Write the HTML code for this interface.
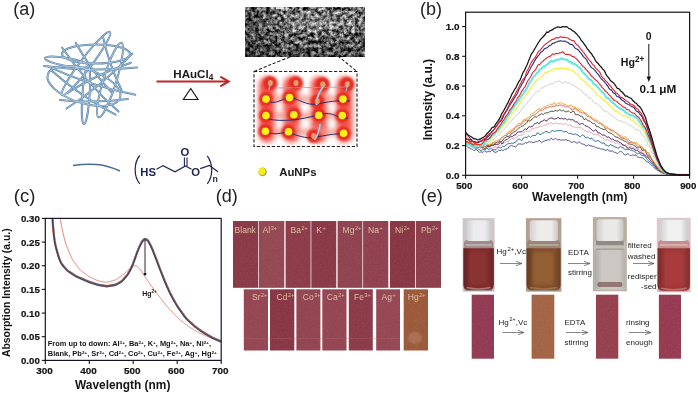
<!DOCTYPE html>
<html><head><meta charset="utf-8"><title>Figure</title>
<style>html,body{margin:0;padding:0;background:#fff;}svg{display:block}</style></head>
<body><svg width="698" height="393" viewBox="0 0 698 393" style="filter:blur(0.35px)">
<defs>
<filter id="sem" x="0" y="0" width="100%" height="100%" color-interpolation-filters="sRGB">
<feTurbulence type="fractalNoise" baseFrequency="0.27" numOctaves="4" seed="11"/>
<feColorMatrix type="matrix" values="1.8 0 0 0 -0.5  1.8 0 0 0 -0.5  1.8 0 0 0 -0.5  0 0 0 0 1"/>
</filter>
<radialGradient id="semg" cx="0.62" cy="0.3" r="0.5" gradientTransform="translate(0.62 0.3) scale(1 0.55) translate(-0.62 -0.3)">
<stop offset="0" stop-color="#fff" stop-opacity="0.3"/><stop offset="1" stop-color="#fff" stop-opacity="0"/></radialGradient>
<linearGradient id="semd" x1="0" x2="0" y1="0" y2="1">
<stop offset="0" stop-color="#000" stop-opacity="0"/><stop offset="0.55" stop-color="#000" stop-opacity="0.05"/><stop offset="1" stop-color="#000" stop-opacity="0.32"/></linearGradient>
<linearGradient id="seml" x1="0" x2="1" y1="0" y2="0">
<stop offset="0" stop-color="#000" stop-opacity="0.25"/><stop offset="0.35" stop-color="#000" stop-opacity="0"/></linearGradient>
<filter id="paper" x="0" y="0" width="100%" height="100%" color-interpolation-filters="sRGB">
<feTurbulence type="fractalNoise" baseFrequency="0.7" numOctaves="2" seed="3"/>
<feColorMatrix type="matrix" values="0 0 0 0 1  0 0 0 0 0.85  0 0 0 0 0.85  1.2 0 0 0 -0.5"/>
</filter>
<filter id="blur3" x="-20%" y="-20%" width="140%" height="140%"><feGaussianBlur stdDeviation="2.6"/></filter>
<filter id="blur1" x="-20%" y="-20%" width="140%" height="140%"><feGaussianBlur stdDeviation="1.3"/></filter>
<linearGradient id="vshade" x1="0" x2="1" y1="0" y2="0">
<stop offset="0" stop-color="#000" stop-opacity="0.25"/><stop offset="0.25" stop-color="#000" stop-opacity="0"/><stop offset="0.8" stop-color="#000" stop-opacity="0"/><stop offset="1" stop-color="#000" stop-opacity="0.2"/></linearGradient>
<linearGradient id="capshade" x1="0" x2="1" y1="0" y2="0">
<stop offset="0" stop-color="#000" stop-opacity="0.12"/><stop offset="0.3" stop-color="#000" stop-opacity="0"/><stop offset="0.75" stop-color="#000" stop-opacity="0"/><stop offset="1" stop-color="#000" stop-opacity="0.15"/></linearGradient>
</defs>
<rect width="698" height="393" fill="#fff"/>
<g id="pa">
<text x="13.2" y="15" font-family="Liberation Sans, Arial, sans-serif" font-size="18" fill="#222">(a)</text>
<ellipse cx="86" cy="63.5" rx="39.6" ry="5.5" transform="rotate(-52.7 86 63.5)" fill="none" stroke="#5580a8" stroke-width="2.0"/>
<ellipse cx="110" cy="80" rx="39" ry="6.5" transform="rotate(107 110 80)" fill="none" stroke="#5580a8" stroke-width="2.0"/>
<ellipse cx="66.6" cy="62" rx="22" ry="4" transform="rotate(10 66.6 62)" fill="none" stroke="#5580a8" stroke-width="2.0"/>
<ellipse cx="96" cy="54" rx="34" ry="9.5" transform="rotate(0 96 54)" fill="none" stroke="#5580a8" stroke-width="2.0"/>
<ellipse cx="86" cy="95" rx="29" ry="3.6" transform="rotate(94 86 95)" fill="none" stroke="#5580a8" stroke-width="2.0"/>
<ellipse cx="84" cy="86" rx="38" ry="17" transform="rotate(18 84 86)" fill="none" stroke="#5580a8" stroke-width="2.0"/>
<path d="M44 66 Q90.4 72.3 137 67.5" fill="none" stroke="#5580a8" stroke-width="2.0" stroke-linecap="round"/>
<path d="M46.8 65.8 Q89.3 85.6 135.3 94.8" fill="none" stroke="#5580a8" stroke-width="2.0" stroke-linecap="round"/>
<path d="M66.6 108.5 Q102.7 85.0 132.3 53.6" fill="none" stroke="#5580a8" stroke-width="2.0" stroke-linecap="round"/>
<path d="M62 47.5 Q86.4 82.9 118.5 111.6" fill="none" stroke="#5580a8" stroke-width="2.0" stroke-linecap="round"/>
<path d="M103.3 38.3 Q109.3 65.3 121.6 90.2" fill="none" stroke="#5580a8" stroke-width="2.0" stroke-linecap="round"/>
<path d="M51.4 70.4 Q80.8 96.4 115.5 114.7" fill="none" stroke="#5580a8" stroke-width="2.0" stroke-linecap="round"/>
<path d="M130.8 62.7 Q96.9 74.1 66.6 93.3" fill="none" stroke="#5580a8" stroke-width="2.0" stroke-linecap="round"/>
<path d="M75.8 42.9 Q91.1 70.3 112.4 93.3" fill="none" stroke="#5580a8" stroke-width="2.0" stroke-linecap="round"/>
<path d="M60 100 Q94.1 103.6 128 99" fill="none" stroke="#5580a8" stroke-width="2.0" stroke-linecap="round"/>
<ellipse cx="86" cy="63.5" rx="39.6" ry="5.5" transform="rotate(-52.7 86 63.5)" fill="none" stroke="#c4daea" stroke-width="0.65"/>
<ellipse cx="110" cy="80" rx="39" ry="6.5" transform="rotate(107 110 80)" fill="none" stroke="#c4daea" stroke-width="0.65"/>
<ellipse cx="66.6" cy="62" rx="22" ry="4" transform="rotate(10 66.6 62)" fill="none" stroke="#c4daea" stroke-width="0.65"/>
<ellipse cx="96" cy="54" rx="34" ry="9.5" transform="rotate(0 96 54)" fill="none" stroke="#c4daea" stroke-width="0.65"/>
<ellipse cx="86" cy="95" rx="29" ry="3.6" transform="rotate(94 86 95)" fill="none" stroke="#c4daea" stroke-width="0.65"/>
<ellipse cx="84" cy="86" rx="38" ry="17" transform="rotate(18 84 86)" fill="none" stroke="#c4daea" stroke-width="0.65"/>
<path d="M44 66 Q90.4 72.3 137 67.5" fill="none" stroke="#c4daea" stroke-width="0.65" stroke-linecap="round"/>
<path d="M46.8 65.8 Q89.3 85.6 135.3 94.8" fill="none" stroke="#c4daea" stroke-width="0.65" stroke-linecap="round"/>
<path d="M66.6 108.5 Q102.7 85.0 132.3 53.6" fill="none" stroke="#c4daea" stroke-width="0.65" stroke-linecap="round"/>
<path d="M62 47.5 Q86.4 82.9 118.5 111.6" fill="none" stroke="#c4daea" stroke-width="0.65" stroke-linecap="round"/>
<path d="M103.3 38.3 Q109.3 65.3 121.6 90.2" fill="none" stroke="#c4daea" stroke-width="0.65" stroke-linecap="round"/>
<path d="M51.4 70.4 Q80.8 96.4 115.5 114.7" fill="none" stroke="#c4daea" stroke-width="0.65" stroke-linecap="round"/>
<path d="M130.8 62.7 Q96.9 74.1 66.6 93.3" fill="none" stroke="#c4daea" stroke-width="0.65" stroke-linecap="round"/>
<path d="M75.8 42.9 Q91.1 70.3 112.4 93.3" fill="none" stroke="#c4daea" stroke-width="0.65" stroke-linecap="round"/>
<path d="M60 100 Q94.1 103.6 128 99" fill="none" stroke="#c4daea" stroke-width="0.65" stroke-linecap="round"/>
<path d="M156.5 81.5 H227" stroke="#c2262a" stroke-width="2.1" fill="none"/>
<path d="M220.3 76.6 L228.6 81.5 L220.3 86.4" stroke="#c2262a" stroke-width="2.1" fill="none" stroke-linejoin="miter"/>
<text x="173.3" y="77.5" font-family="Liberation Sans, Arial, sans-serif" font-size="11.6" font-weight="bold" fill="#1a1a1a">HAuCl<tspan font-size="8.3" dy="2.8">4</tspan></text>
<path d="M190.7 88.5 L198 99.5 H183.4 Z" stroke="#1a1a1a" stroke-width="1.2" fill="none"/>
<rect x="245.3" y="7.1" width="119.1" height="49.9" fill="#6a6a6a"/>
<rect x="245.3" y="7.1" width="119.1" height="49.9" filter="url(#sem)"/>
<rect x="245.3" y="7.1" width="119.1" height="49.9" fill="url(#semg)"/>
<rect x="245.3" y="7.1" width="119.1" height="49.9" fill="url(#semd)"/>
<rect x="245.3" y="7.1" width="119.1" height="49.9" fill="url(#seml)"/>
<rect x="276" y="7.1" width="8" height="2.2" fill="#fff" opacity="0.85"/>
<path d="M254 71.5 Q300 52 318 48.5 Q326 47.5 333 52 L357 71.5" stroke="#222" stroke-width="1.1" fill="none" stroke-dasharray="3.2 1.8"/>
<rect x="254" y="71.5" width="103" height="75" fill="#fff"/>
<g filter="url(#blur3)">
<rect x="259" y="76.5" width="16" height="66" rx="8" fill="#ee362c" opacity="0.85"/>
<rect x="283.5" y="76.5" width="16" height="66" rx="8" fill="#ee362c" opacity="0.85"/>
<rect x="311" y="76.5" width="16" height="66" rx="8" fill="#ee362c" opacity="0.85"/>
<rect x="336.5" y="76.5" width="16" height="66" rx="8" fill="#ee362c" opacity="0.85"/>
<rect x="260" y="95.5" width="90" height="7" rx="3.5" fill="#f4958c" opacity="0.8"/>
<rect x="260" y="112.0" width="90" height="7" rx="3.5" fill="#f4958c" opacity="0.8"/>
<rect x="260" y="128.5" width="90" height="7" rx="3.5" fill="#f4958c" opacity="0.8"/>
</g>
<g filter="url(#blur1)">
<circle cx="266" cy="99.1" r="7.2" fill="#e8281e" opacity="0.95"/>
<circle cx="289.5" cy="97.6" r="7.2" fill="#e8281e" opacity="0.95"/>
<circle cx="343" cy="99.1" r="7.2" fill="#e8281e" opacity="0.95"/>
<circle cx="266" cy="115.6" r="7.2" fill="#e8281e" opacity="0.95"/>
<circle cx="293.8" cy="114.7" r="7.2" fill="#e8281e" opacity="0.95"/>
<circle cx="318.8" cy="115.2" r="7.2" fill="#e8281e" opacity="0.95"/>
<circle cx="342.3" cy="115.6" r="7.2" fill="#e8281e" opacity="0.95"/>
<circle cx="265.4" cy="131.2" r="7.2" fill="#e8281e" opacity="0.95"/>
<circle cx="288.5" cy="131.8" r="7.2" fill="#e8281e" opacity="0.95"/>
<circle cx="343.6" cy="133.3" r="7.2" fill="#e8281e" opacity="0.95"/>
<circle cx="270.3" cy="83.1" r="7.2" fill="#e8281e" opacity="0.95"/>
<circle cx="296" cy="83.1" r="7.2" fill="#e8281e" opacity="0.95"/>
<circle cx="322.7" cy="84.2" r="7.2" fill="#e8281e" opacity="0.95"/>
<circle cx="347.2" cy="84.2" r="7.2" fill="#e8281e" opacity="0.95"/>
<circle cx="317.3" cy="101.3" r="7.2" fill="#e8281e" opacity="0.95"/>
<circle cx="313.7" cy="136.1" r="7.2" fill="#e8281e" opacity="0.95"/>
</g>
<path d="M274 88 L346 87" stroke="#a7a0b8" stroke-width="0.8" fill="none"/>
<path d="M270 102 C278 104 282 98 290 98 S306 106 317 104 S336 100 350 101" stroke="#2a2f6a" stroke-width="1" fill="none"/>
<path d="M268 119 C282 122 300 120 318 115 S336 120 348 118" stroke="#2a2f6a" stroke-width="1" fill="none"/>
<path d="M268 132.5 C278 136 284 131 290 133 S306 139 314 137.5 S336 133 346 134" stroke="#2a2f6a" stroke-width="1" fill="none"/>
<path d="M325 84 C319 92 316 99 316.5 105" stroke="#8fa8c4" stroke-width="2.2" fill="none"/>
<path d="M325 84 C319 92 316 99 316.5 105" stroke="#e6eef5" stroke-width="0.7" fill="none"/>
<path d="M320 124 C320 130 317 136 314.5 140" stroke="#8fa8c4" stroke-width="2" fill="none"/>
<path d="M320 124 C320 130 317 136 314.5 140" stroke="#e6eef5" stroke-width="0.6" fill="none"/>
<path d="M272 81 C270 85 269 87 269 90" stroke="#8fa8c4" stroke-width="1.6" fill="none"/>
<path d="M349 81.5 C347.5 85 346.5 88 346 91.5" stroke="#8fa8c4" stroke-width="1.6" fill="none"/>
<ellipse cx="270.3" cy="83.1" rx="2.5" ry="3" fill="#e0a878" opacity="0.9"/>
<ellipse cx="296" cy="83.1" rx="2.5" ry="3" fill="#e0a878" opacity="0.9"/>
<ellipse cx="322.7" cy="84.2" rx="2.5" ry="3" fill="#e0a878" opacity="0.9"/>
<ellipse cx="347.2" cy="84.2" rx="2.5" ry="3" fill="#e0a878" opacity="0.9"/>
<ellipse cx="317.3" cy="101.3" rx="2.5" ry="3" fill="#e0a878" opacity="0.9"/>
<ellipse cx="313.7" cy="136.1" rx="2.5" ry="3" fill="#e0a878" opacity="0.9"/>
<circle cx="266" cy="99.1" r="3.8" fill="#f8f018"/>
<circle cx="289.5" cy="97.6" r="3.8" fill="#f8f018"/>
<circle cx="343" cy="99.1" r="3.8" fill="#f8f018"/>
<circle cx="266" cy="115.6" r="3.8" fill="#f8f018"/>
<circle cx="293.8" cy="114.7" r="3.8" fill="#f8f018"/>
<circle cx="318.8" cy="115.2" r="3.8" fill="#f8f018"/>
<circle cx="342.3" cy="115.6" r="3.8" fill="#f8f018"/>
<circle cx="265.4" cy="131.2" r="3.8" fill="#f8f018"/>
<circle cx="288.5" cy="131.8" r="3.8" fill="#f8f018"/>
<circle cx="343.6" cy="133.3" r="3.8" fill="#f8f018"/>
<rect x="254" y="71.5" width="103" height="75" fill="none" stroke="#222" stroke-width="1.1" stroke-dasharray="3.2 1.8"/>
<path d="M73 165.5 C90 163 104 163.5 120 171" stroke="#4d6a92" stroke-width="1.5" fill="none"/>
<path d="M139.8 155.5 C133.6 163 133.6 176.5 139.8 183.8" stroke="#1d2354" stroke-width="1.2" fill="none"/>
<path d="M207.3 155.8 C213.2 164 213.2 176 207.3 183.8" stroke="#1d2354" stroke-width="1.2" fill="none"/>
<text x="140.3" y="175.6" font-family="Liberation Sans, Arial, sans-serif" font-size="11.3" font-weight="bold" fill="#1d2354">HS</text>
<path d="M156.6 169.2 L163 165.6 L175 171.8 L185.5 166 L191.5 169.3" stroke="#1d2354" stroke-width="1.2" fill="none"/>
<path d="M184.4 166 V157.4 M187 166 V157.4" stroke="#1d2354" stroke-width="1.1" fill="none"/>
<text x="180.6" y="156.4" font-family="Liberation Sans, Arial, sans-serif" font-size="11.3" font-weight="bold" fill="#1d2354">O</text>
<text x="191.2" y="176.2" font-family="Liberation Sans, Arial, sans-serif" font-size="11.3" font-weight="bold" fill="#1d2354">O</text>
<path d="M200.2 168.6 L209.4 165.4 L218 171.8" stroke="#1d2354" stroke-width="1.2" fill="none"/>
<text x="212.6" y="182.2" font-family="Liberation Sans, Arial, sans-serif" font-size="8.8" font-weight="bold" fill="#1d2354">n</text>
<circle cx="262.6" cy="171.9" r="4.3" fill="#b0a468"/>
<circle cx="261.9" cy="171.3" r="3.6" fill="#f6ee14"/>
<text x="279.2" y="176" font-family="Liberation Sans, Arial, sans-serif" font-size="11.4" font-weight="bold" fill="#1a1a1a">AuNPs</text>
</g>
<g id="pb">
<text x="420" y="15" font-family="Liberation Sans, Arial, sans-serif" font-size="18" fill="#222">(b)</text>
<path d="M465.6 144.4 L466.5 145.0 L467.3 146.5 L468.2 147.7 L469.1 147.9 L469.9 147.9 L470.8 148.5 L471.7 149.1 L472.5 149.5 L473.4 150.3 L474.2 150.7 L475.1 150.0 L476.0 149.5 L476.8 149.8 L477.7 150.8 L478.6 151.7 L479.4 152.3 L480.3 152.2 L481.2 151.7 L482.0 152.2 L482.9 152.5 L483.8 151.5 L484.6 150.7 L485.5 151.2 L486.4 152.2 L487.2 151.9 L488.1 151.3 L489.0 151.5 L489.8 151.8 L490.7 151.3 L491.5 150.2 L492.4 150.1 L493.3 151.3 L494.1 151.8 L495.0 152.1 L495.9 152.5 L496.7 152.0 L497.6 150.9 L498.5 150.0 L499.3 150.3 L500.2 150.7 L501.1 149.9 L501.9 150.0 L502.8 150.5 L503.7 150.0 L504.5 149.5 L505.4 149.2 L506.2 149.1 L507.1 149.3 L508.0 148.3 L508.8 146.8 L509.7 146.2 L510.6 145.9 L511.4 145.4 L512.3 145.7 L513.2 146.3 L514.0 146.4 L514.9 146.8 L515.8 147.0 L516.6 146.3 L517.5 144.7 L518.4 144.0 L519.2 144.0 L520.1 143.8 L521.0 144.2 L521.8 144.2 L522.7 144.1 L523.5 144.2 L524.4 143.2 L525.3 142.6 L526.1 143.1 L527.0 143.0 L527.9 142.4 L528.7 141.9 L529.6 141.8 L530.5 142.0 L531.3 141.9 L532.2 142.4 L533.1 142.5 L533.9 142.1 L534.8 142.2 L535.7 141.8 L536.5 141.4 L537.4 141.7 L538.2 141.1 L539.1 140.4 L540.0 140.9 L540.8 142.1 L541.7 142.8 L542.6 142.0 L543.4 141.1 L544.3 141.0 L545.2 140.7 L546.0 140.3 L546.9 140.2 L547.8 139.9 L548.6 139.7 L549.5 140.1 L550.4 139.4 L551.2 138.2 L552.1 138.7 L553.0 139.9 L553.8 139.6 L554.7 138.7 L555.5 138.5 L556.4 139.1 L557.3 139.9 L558.1 139.9 L559.0 139.3 L559.9 139.5 L560.7 140.0 L561.6 140.2 L562.5 140.0 L563.3 139.9 L564.2 140.2 L565.1 139.9 L565.9 139.6 L566.8 140.2 L567.7 140.6 L568.5 140.5 L569.4 140.8 L570.2 141.3 L571.1 142.1 L572.0 142.6 L572.8 141.9 L573.7 141.6 L574.6 141.9 L575.4 142.2 L576.3 142.8 L577.2 143.2 L578.0 142.5 L578.9 141.7 L579.8 142.3 L580.6 143.3 L581.5 143.6 L582.4 144.1 L583.2 144.2 L584.1 144.1 L585.0 145.1 L585.8 146.1 L586.7 145.9 L587.5 145.4 L588.4 145.0 L589.3 145.2 L590.1 145.8 L591.0 145.8 L591.9 146.0 L592.7 146.3 L593.6 146.3 L594.5 146.8 L595.3 147.3 L596.2 147.5 L597.1 148.1 L597.9 148.3 L598.8 148.1 L599.7 148.4 L600.5 148.9 L601.4 149.1 L602.2 148.9 L603.1 149.0 L604.0 149.6 L604.8 149.9 L605.7 150.4 L606.6 150.2 L607.4 149.2 L608.3 150.2 L609.2 151.2 L610.0 150.8 L610.9 151.2 L611.8 151.1 L612.6 151.0 L613.5 151.8 L614.4 152.3 L615.2 152.3 L616.1 152.7 L617.0 153.4 L617.8 153.4 L618.7 152.5 L619.5 151.8 L620.4 151.6 L621.3 151.5 L622.1 152.3 L623.0 153.3 L623.9 154.1 L624.7 154.9 L625.6 155.0 L626.5 154.5 L627.3 153.9 L628.2 153.9 L629.1 154.6 L629.9 155.4 L630.8 155.7 L631.7 155.3 L632.5 154.9 L633.4 155.2 L634.2 155.4 L635.1 154.8 L636.0 155.1 L636.8 156.3 L637.7 157.0 L638.6 157.2 L639.4 157.4 L640.3 157.6 L641.2 157.7 L642.0 157.8 L642.9 158.0 L643.8 158.8 L644.6 159.8 L645.5 160.6 L646.4 161.4 L647.2 161.8 L648.1 162.1 L649.0 162.8 L649.8 163.6 L650.7 164.6 L651.5 165.4 L652.4 166.0 L653.3 166.9 L654.1 167.7 L655.0 168.5 L655.9 169.3 L656.7 169.9 L657.6 170.4 L658.5 170.8 L659.3 171.3 L660.2 171.9 L661.1 172.5 L661.9 172.8 L662.8 173.0 L663.7 173.3 L664.5 173.5 L665.4 173.7 L666.2 173.9 L667.1 174.0 L668.0 174.1 L668.8 174.2 L669.7 174.4 L670.6 174.5 L671.4 174.5 L672.3 174.6 L673.2 174.6 L674.0 174.6 L674.9 174.7 L675.8 174.7 L676.6 174.7 L677.5 174.7 L678.4 174.7 L679.2 174.7 L680.1 174.7 L681.0 174.8 L681.8 174.8 L682.7 174.8 L683.5 174.8 L684.4 174.8 L685.3 174.8 L686.1 174.8 L687.0 174.8 L687.9 174.8 L688.7 174.8 L689.6 174.8" fill="none" stroke="#4a5088" stroke-width="1.0" stroke-linejoin="round"/>
<path d="M465.6 142.0 L466.5 142.2 L467.3 142.9 L468.2 143.4 L469.1 143.6 L469.9 144.5 L470.8 145.9 L471.7 146.3 L472.5 147.0 L473.4 147.8 L474.2 148.0 L475.1 148.2 L476.0 148.0 L476.8 148.2 L477.7 148.8 L478.6 149.1 L479.4 149.7 L480.3 150.5 L481.2 150.4 L482.0 150.0 L482.9 149.8 L483.8 149.6 L484.6 149.7 L485.5 149.5 L486.4 148.3 L487.2 147.9 L488.1 149.1 L489.0 149.5 L489.8 148.9 L490.7 148.0 L491.5 148.1 L492.4 149.3 L493.3 149.8 L494.1 149.7 L495.0 149.9 L495.9 149.5 L496.7 148.7 L497.6 148.1 L498.5 147.0 L499.3 146.9 L500.2 147.8 L501.1 148.0 L501.9 146.9 L502.8 146.0 L503.7 146.5 L504.5 146.7 L505.4 145.6 L506.2 144.9 L507.1 144.4 L508.0 143.5 L508.8 143.2 L509.7 143.5 L510.6 143.6 L511.4 143.2 L512.3 143.2 L513.2 143.4 L514.0 142.8 L514.9 142.4 L515.8 142.1 L516.6 141.1 L517.5 139.7 L518.4 139.2 L519.2 139.1 L520.1 139.2 L521.0 140.3 L521.8 140.6 L522.7 139.2 L523.5 137.9 L524.4 137.6 L525.3 137.1 L526.1 137.2 L527.0 137.7 L527.9 136.7 L528.7 135.7 L529.6 136.7 L530.5 137.5 L531.3 136.7 L532.2 135.8 L533.1 135.5 L533.9 135.5 L534.8 135.6 L535.7 135.5 L536.5 134.1 L537.4 132.7 L538.2 133.1 L539.1 134.0 L540.0 134.4 L540.8 134.6 L541.7 133.6 L542.6 133.0 L543.4 133.0 L544.3 132.4 L545.2 131.8 L546.0 131.5 L546.9 131.5 L547.8 132.1 L548.6 132.9 L549.5 132.8 L550.4 131.9 L551.2 131.3 L552.1 130.7 L553.0 130.5 L553.8 131.2 L554.7 131.3 L555.5 130.9 L556.4 130.9 L557.3 130.9 L558.1 130.8 L559.0 130.5 L559.9 130.6 L560.7 130.7 L561.6 130.6 L562.5 131.0 L563.3 131.7 L564.2 131.8 L565.1 131.7 L565.9 131.5 L566.8 131.6 L567.7 132.8 L568.5 133.6 L569.4 133.3 L570.2 133.3 L571.1 133.8 L572.0 133.9 L572.8 134.3 L573.7 134.6 L574.6 134.1 L575.4 134.0 L576.3 134.6 L577.2 134.9 L578.0 134.9 L578.9 135.9 L579.8 136.9 L580.6 136.5 L581.5 135.6 L582.4 135.0 L583.2 134.9 L584.1 135.8 L585.0 137.1 L585.8 137.8 L586.7 137.7 L587.5 137.2 L588.4 137.6 L589.3 138.6 L590.1 138.8 L591.0 138.2 L591.9 138.2 L592.7 139.3 L593.6 140.5 L594.5 141.0 L595.3 141.2 L596.2 141.2 L597.1 140.7 L597.9 140.6 L598.8 140.9 L599.7 141.5 L600.5 142.3 L601.4 142.8 L602.2 143.1 L603.1 143.1 L604.0 142.9 L604.8 144.1 L605.7 145.3 L606.6 145.3 L607.4 145.6 L608.3 146.2 L609.2 145.8 L610.0 144.8 L610.9 144.7 L611.8 145.5 L612.6 145.5 L613.5 145.8 L614.4 147.0 L615.2 147.2 L616.1 147.0 L617.0 147.6 L617.8 148.3 L618.7 148.0 L619.5 147.0 L620.4 146.6 L621.3 147.0 L622.1 147.6 L623.0 147.5 L623.9 148.3 L624.7 149.4 L625.6 149.3 L626.5 149.3 L627.3 149.5 L628.2 149.4 L629.1 149.4 L629.9 149.9 L630.8 150.3 L631.7 150.2 L632.5 150.7 L633.4 151.0 L634.2 151.0 L635.1 151.8 L636.0 152.7 L636.8 153.3 L637.7 153.9 L638.6 153.3 L639.4 152.9 L640.3 154.0 L641.2 154.9 L642.0 155.6 L642.9 155.7 L643.8 155.3 L644.6 156.1 L645.5 157.5 L646.4 158.5 L647.2 159.4 L648.1 160.4 L649.0 161.3 L649.8 161.9 L650.7 162.4 L651.5 163.1 L652.4 164.1 L653.3 165.4 L654.1 166.5 L655.0 167.3 L655.9 168.0 L656.7 168.6 L657.6 169.2 L658.5 170.0 L659.3 170.9 L660.2 171.5 L661.1 171.8 L661.9 172.3 L662.8 172.8 L663.7 173.1 L664.5 173.3 L665.4 173.6 L666.2 173.8 L667.1 174.0 L668.0 174.1 L668.8 174.2 L669.7 174.3 L670.6 174.4 L671.4 174.5 L672.3 174.6 L673.2 174.6 L674.0 174.6 L674.9 174.7 L675.8 174.7 L676.6 174.7 L677.5 174.7 L678.4 174.7 L679.2 174.8 L680.1 174.8 L681.0 174.8 L681.8 174.8 L682.7 174.8 L683.5 174.8 L684.4 174.8 L685.3 174.8 L686.1 174.8 L687.0 174.8 L687.9 174.9 L688.7 174.9 L689.6 174.9" fill="none" stroke="#2a6a9a" stroke-width="1.0" stroke-linejoin="round"/>
<path d="M465.6 139.2 L466.5 140.0 L467.3 140.7 L468.2 141.4 L469.1 143.0 L469.9 143.8 L470.8 143.1 L471.7 142.9 L472.5 144.3 L473.4 145.7 L474.2 145.8 L475.1 145.8 L476.0 146.4 L476.8 147.5 L477.7 148.1 L478.6 147.9 L479.4 147.3 L480.3 146.6 L481.2 146.9 L482.0 148.2 L482.9 148.7 L483.8 148.5 L484.6 148.2 L485.5 147.8 L486.4 147.6 L487.2 147.4 L488.1 147.2 L489.0 147.8 L489.8 148.7 L490.7 148.9 L491.5 148.6 L492.4 148.5 L493.3 148.1 L494.1 146.9 L495.0 146.4 L495.9 146.7 L496.7 147.1 L497.6 147.1 L498.5 145.9 L499.3 145.1 L500.2 145.5 L501.1 144.8 L501.9 143.7 L502.8 143.5 L503.7 143.2 L504.5 142.8 L505.4 142.7 L506.2 141.6 L507.1 140.9 L508.0 141.5 L508.8 141.4 L509.7 140.1 L510.6 138.9 L511.4 138.3 L512.3 138.4 L513.2 139.0 L514.0 138.8 L514.9 137.8 L515.8 137.3 L516.6 137.3 L517.5 136.6 L518.4 135.6 L519.2 135.2 L520.1 135.3 L521.0 135.0 L521.8 134.9 L522.7 134.5 L523.5 133.3 L524.4 131.5 L525.3 130.6 L526.1 131.2 L527.0 131.4 L527.9 131.3 L528.7 131.5 L529.6 131.1 L530.5 130.5 L531.3 129.2 L532.2 128.4 L533.1 128.9 L533.9 128.9 L534.8 127.9 L535.7 127.7 L536.5 127.7 L537.4 127.8 L538.2 128.0 L539.1 127.0 L540.0 126.0 L540.8 126.0 L541.7 126.3 L542.6 126.2 L543.4 125.5 L544.3 125.2 L545.2 125.3 L546.0 125.1 L546.9 124.2 L547.8 123.7 L548.6 123.7 L549.5 123.4 L550.4 122.8 L551.2 122.8 L552.1 123.4 L553.0 124.0 L553.8 124.0 L554.7 123.6 L555.5 123.0 L556.4 123.0 L557.3 123.5 L558.1 123.9 L559.0 123.8 L559.9 123.4 L560.7 123.5 L561.6 123.9 L562.5 124.3 L563.3 124.5 L564.2 124.1 L565.1 123.4 L565.9 123.7 L566.8 124.7 L567.7 125.4 L568.5 125.3 L569.4 124.5 L570.2 124.6 L571.1 126.0 L572.0 126.6 L572.8 126.4 L573.7 127.0 L574.6 127.5 L575.4 127.0 L576.3 127.0 L577.2 127.9 L578.0 127.7 L578.9 127.1 L579.8 127.6 L580.6 128.0 L581.5 127.8 L582.4 128.7 L583.2 129.8 L584.1 130.1 L585.0 130.6 L585.8 131.0 L586.7 131.4 L587.5 131.6 L588.4 131.7 L589.3 131.7 L590.1 131.9 L591.0 132.6 L591.9 133.0 L592.7 133.7 L593.6 134.7 L594.5 134.7 L595.3 134.4 L596.2 134.6 L597.1 134.1 L597.9 133.8 L598.8 135.1 L599.7 136.2 L600.5 136.3 L601.4 137.1 L602.2 138.0 L603.1 137.9 L604.0 139.0 L604.8 140.5 L605.7 140.4 L606.6 139.8 L607.4 139.8 L608.3 139.9 L609.2 140.1 L610.0 140.6 L610.9 141.7 L611.8 142.4 L612.6 141.7 L613.5 141.4 L614.4 142.7 L615.2 143.9 L616.1 143.5 L617.0 142.6 L617.8 143.2 L618.7 144.2 L619.5 144.1 L620.4 143.9 L621.3 144.5 L622.1 145.4 L623.0 145.7 L623.9 145.1 L624.7 144.7 L625.6 144.9 L626.5 145.1 L627.3 145.5 L628.2 145.9 L629.1 146.2 L629.9 146.2 L630.8 146.1 L631.7 146.7 L632.5 147.5 L633.4 147.7 L634.2 147.8 L635.1 148.0 L636.0 148.3 L636.8 149.1 L637.7 149.9 L638.6 149.6 L639.4 149.8 L640.3 150.6 L641.2 150.7 L642.0 151.3 L642.9 152.9 L643.8 153.8 L644.6 154.0 L645.5 155.0 L646.4 155.8 L647.2 156.5 L648.1 157.8 L649.0 159.1 L649.8 160.0 L650.7 160.5 L651.5 161.3 L652.4 162.3 L653.3 163.5 L654.1 164.8 L655.0 165.9 L655.9 166.7 L656.7 167.4 L657.6 168.5 L658.5 169.7 L659.3 170.3 L660.2 170.8 L661.1 171.5 L661.9 172.0 L662.8 172.5 L663.7 172.9 L664.5 173.1 L665.4 173.4 L666.2 173.7 L667.1 173.9 L668.0 174.1 L668.8 174.2 L669.7 174.3 L670.6 174.4 L671.4 174.4 L672.3 174.5 L673.2 174.6 L674.0 174.7 L674.9 174.7 L675.8 174.7 L676.6 174.7 L677.5 174.7 L678.4 174.7 L679.2 174.8 L680.1 174.8 L681.0 174.8 L681.8 174.8 L682.7 174.8 L683.5 174.8 L684.4 174.8 L685.3 174.8 L686.1 174.8 L687.0 174.8 L687.9 174.8 L688.7 174.9 L689.6 174.9" fill="none" stroke="#f0a0b0" stroke-width="1.0" stroke-linejoin="round"/>
<path d="M465.6 132.4 L466.5 132.6 L467.3 134.0 L468.2 135.8 L469.1 137.0 L469.9 138.0 L470.8 138.9 L471.7 139.6 L472.5 140.4 L473.4 141.3 L474.2 142.4 L475.1 142.8 L476.0 143.4 L476.8 144.5 L477.7 144.7 L478.6 144.9 L479.4 145.5 L480.3 146.3 L481.2 146.4 L482.0 145.9 L482.9 146.3 L483.8 146.6 L484.6 146.4 L485.5 146.5 L486.4 145.8 L487.2 145.3 L488.1 145.5 L489.0 146.0 L489.8 146.8 L490.7 146.5 L491.5 145.2 L492.4 145.2 L493.3 145.0 L494.1 144.3 L495.0 144.6 L495.9 144.7 L496.7 144.4 L497.6 144.3 L498.5 144.3 L499.3 143.4 L500.2 142.1 L501.1 142.5 L501.9 143.9 L502.8 143.3 L503.7 141.5 L504.5 140.7 L505.4 140.1 L506.2 139.7 L507.1 139.6 L508.0 138.6 L508.8 137.7 L509.7 137.4 L510.6 136.8 L511.4 136.4 L512.3 136.4 L513.2 136.0 L514.0 135.1 L514.9 134.9 L515.8 134.7 L516.6 133.3 L517.5 132.1 L518.4 131.9 L519.2 132.0 L520.1 131.9 L521.0 131.9 L521.8 131.7 L522.7 130.8 L523.5 130.2 L524.4 129.5 L525.3 128.8 L526.1 129.3 L527.0 129.3 L527.9 128.0 L528.7 126.9 L529.6 126.7 L530.5 126.9 L531.3 126.7 L532.2 126.5 L533.1 125.7 L533.9 124.4 L534.8 123.5 L535.7 123.4 L536.5 123.0 L537.4 122.3 L538.2 123.2 L539.1 123.8 L540.0 122.7 L540.8 121.5 L541.7 121.3 L542.6 121.3 L543.4 120.3 L544.3 119.8 L545.2 120.5 L546.0 121.1 L546.9 120.9 L547.8 119.8 L548.6 118.8 L549.5 118.5 L550.4 118.1 L551.2 118.0 L552.1 118.1 L553.0 118.4 L553.8 119.0 L554.7 119.1 L555.5 118.7 L556.4 118.6 L557.3 117.9 L558.1 117.4 L559.0 118.0 L559.9 118.9 L560.7 118.7 L561.6 118.3 L562.5 118.7 L563.3 119.0 L564.2 118.9 L565.1 118.7 L565.9 118.6 L566.8 119.6 L567.7 119.9 L568.5 119.2 L569.4 119.1 L570.2 119.6 L571.1 119.9 L572.0 119.8 L572.8 119.6 L573.7 120.1 L574.6 121.3 L575.4 121.8 L576.3 121.8 L577.2 122.0 L578.0 122.5 L578.9 123.9 L579.8 124.7 L580.6 124.0 L581.5 123.5 L582.4 123.7 L583.2 123.8 L584.1 124.7 L585.0 125.6 L585.8 125.9 L586.7 126.2 L587.5 126.4 L588.4 127.0 L589.3 127.6 L590.1 128.1 L591.0 129.1 L591.9 129.9 L592.7 130.6 L593.6 131.1 L594.5 130.5 L595.3 129.7 L596.2 129.9 L597.1 131.2 L597.9 132.8 L598.8 133.1 L599.7 132.8 L600.5 133.4 L601.4 134.3 L602.2 135.2 L603.1 135.1 L604.0 134.7 L604.8 135.2 L605.7 136.1 L606.6 137.1 L607.4 137.3 L608.3 136.9 L609.2 137.4 L610.0 138.2 L610.9 138.9 L611.8 139.3 L612.6 138.9 L613.5 139.3 L614.4 140.5 L615.2 140.7 L616.1 140.9 L617.0 141.2 L617.8 140.9 L618.7 141.4 L619.5 142.5 L620.4 142.6 L621.3 143.1 L622.1 144.4 L623.0 144.8 L623.9 145.2 L624.7 145.6 L625.6 145.9 L626.5 146.9 L627.3 148.0 L628.2 148.3 L629.1 147.8 L629.9 147.6 L630.8 148.2 L631.7 148.7 L632.5 148.7 L633.4 148.5 L634.2 149.2 L635.1 150.2 L636.0 150.3 L636.8 150.1 L637.7 151.0 L638.6 151.6 L639.4 152.0 L640.3 152.3 L641.2 152.8 L642.0 153.5 L642.9 153.4 L643.8 154.2 L644.6 155.3 L645.5 155.9 L646.4 156.7 L647.2 156.9 L648.1 157.4 L649.0 158.8 L649.8 159.7 L650.7 160.5 L651.5 161.8 L652.4 162.8 L653.3 163.5 L654.1 164.5 L655.0 165.8 L655.9 166.8 L656.7 167.8 L657.6 169.0 L658.5 169.8 L659.3 170.6 L660.2 171.1 L661.1 171.4 L661.9 171.9 L662.8 172.4 L663.7 172.9 L664.5 173.2 L665.4 173.6 L666.2 173.8 L667.1 174.0 L668.0 174.1 L668.8 174.2 L669.7 174.3 L670.6 174.4 L671.4 174.5 L672.3 174.5 L673.2 174.6 L674.0 174.6 L674.9 174.7 L675.8 174.7 L676.6 174.7 L677.5 174.7 L678.4 174.7 L679.2 174.7 L680.1 174.8 L681.0 174.8 L681.8 174.8 L682.7 174.8 L683.5 174.8 L684.4 174.8 L685.3 174.8 L686.1 174.8 L687.0 174.8 L687.9 174.8 L688.7 174.8 L689.6 174.9" fill="none" stroke="#4a2060" stroke-width="1.0" stroke-linejoin="round"/>
<path d="M465.6 141.7 L466.5 141.6 L467.3 141.6 L468.2 142.3 L469.1 143.7 L469.9 144.0 L470.8 143.9 L471.7 145.0 L472.5 145.8 L473.4 146.0 L474.2 146.6 L475.1 147.0 L476.0 147.3 L476.8 147.6 L477.7 147.5 L478.6 147.4 L479.4 147.6 L480.3 147.8 L481.2 147.7 L482.0 147.6 L482.9 147.6 L483.8 147.9 L484.6 148.6 L485.5 148.6 L486.4 147.5 L487.2 146.4 L488.1 146.3 L489.0 146.8 L489.8 146.1 L490.7 145.0 L491.5 144.8 L492.4 145.0 L493.3 145.5 L494.1 145.2 L495.0 143.4 L495.9 142.3 L496.7 142.6 L497.6 142.7 L498.5 142.2 L499.3 141.5 L500.2 141.3 L501.1 141.5 L501.9 141.3 L502.8 140.2 L503.7 138.6 L504.5 137.9 L505.4 137.7 L506.2 137.0 L507.1 136.5 L508.0 136.4 L508.8 136.3 L509.7 136.1 L510.6 134.7 L511.4 133.3 L512.3 133.2 L513.2 132.5 L514.0 131.8 L514.9 131.8 L515.8 130.9 L516.6 130.0 L517.5 129.1 L518.4 128.3 L519.2 128.0 L520.1 127.5 L521.0 126.5 L521.8 126.0 L522.7 126.0 L523.5 125.7 L524.4 124.9 L525.3 123.9 L526.1 123.5 L527.0 122.4 L527.9 120.9 L528.7 120.7 L529.6 121.0 L530.5 120.9 L531.3 120.0 L532.2 118.8 L533.1 118.2 L533.9 117.4 L534.8 116.5 L535.7 117.0 L536.5 117.2 L537.4 116.4 L538.2 115.6 L539.1 115.1 L540.0 114.7 L540.8 114.0 L541.7 113.7 L542.6 114.3 L543.4 114.4 L544.3 113.5 L545.2 113.2 L546.0 113.0 L546.9 112.7 L547.8 112.8 L548.6 112.4 L549.5 111.8 L550.4 111.4 L551.2 111.2 L552.1 111.3 L553.0 111.3 L553.8 111.3 L554.7 110.8 L555.5 110.4 L556.4 110.7 L557.3 111.1 L558.1 110.7 L559.0 110.0 L559.9 109.7 L560.7 110.2 L561.6 110.9 L562.5 110.7 L563.3 110.1 L564.2 110.9 L565.1 111.6 L565.9 111.7 L566.8 111.8 L567.7 111.2 L568.5 111.0 L569.4 111.7 L570.2 112.5 L571.1 112.5 L572.0 112.0 L572.8 111.4 L573.7 111.2 L574.6 112.7 L575.4 114.5 L576.3 114.7 L577.2 114.5 L578.0 114.5 L578.9 115.1 L579.8 115.7 L580.6 116.2 L581.5 116.2 L582.4 116.5 L583.2 118.2 L584.1 119.6 L585.0 119.3 L585.8 118.6 L586.7 119.2 L587.5 120.5 L588.4 120.9 L589.3 120.8 L590.1 121.2 L591.0 122.2 L591.9 122.9 L592.7 123.4 L593.6 123.6 L594.5 123.5 L595.3 124.3 L596.2 126.1 L597.1 126.8 L597.9 126.4 L598.8 126.9 L599.7 127.9 L600.5 128.3 L601.4 128.5 L602.2 128.9 L603.1 129.4 L604.0 129.4 L604.8 129.4 L605.7 129.8 L606.6 130.5 L607.4 131.5 L608.3 132.5 L609.2 132.8 L610.0 132.9 L610.9 133.2 L611.8 133.6 L612.6 134.3 L613.5 134.9 L614.4 135.7 L615.2 136.8 L616.1 137.2 L617.0 137.2 L617.8 137.4 L618.7 138.1 L619.5 138.7 L620.4 139.1 L621.3 139.2 L622.1 139.6 L623.0 140.4 L623.9 140.9 L624.7 141.1 L625.6 141.5 L626.5 142.2 L627.3 142.9 L628.2 143.6 L629.1 144.1 L629.9 143.9 L630.8 144.2 L631.7 144.5 L632.5 144.6 L633.4 145.2 L634.2 145.4 L635.1 146.1 L636.0 147.2 L636.8 147.6 L637.7 148.0 L638.6 147.9 L639.4 147.2 L640.3 147.2 L641.2 148.5 L642.0 150.2 L642.9 150.4 L643.8 150.1 L644.6 150.7 L645.5 151.6 L646.4 153.3 L647.2 154.9 L648.1 155.9 L649.0 156.4 L649.8 157.0 L650.7 158.4 L651.5 159.5 L652.4 160.5 L653.3 161.9 L654.1 163.3 L655.0 164.3 L655.9 165.3 L656.7 166.7 L657.6 167.6 L658.5 168.4 L659.3 169.3 L660.2 170.3 L661.1 171.3 L661.9 171.9 L662.8 172.3 L663.7 172.7 L664.5 173.1 L665.4 173.4 L666.2 173.7 L667.1 173.9 L668.0 174.0 L668.8 174.2 L669.7 174.3 L670.6 174.4 L671.4 174.5 L672.3 174.6 L673.2 174.6 L674.0 174.6 L674.9 174.6 L675.8 174.7 L676.6 174.7 L677.5 174.8 L678.4 174.8 L679.2 174.8 L680.1 174.8 L681.0 174.8 L681.8 174.8 L682.7 174.8 L683.5 174.8 L684.4 174.8 L685.3 174.8 L686.1 174.8 L687.0 174.8 L687.9 174.9 L688.7 174.9 L689.6 174.9" fill="none" stroke="#4a4a2a" stroke-width="1.0" stroke-linejoin="round"/>
<path d="M465.6 138.6 L466.5 139.1 L467.3 139.5 L468.2 139.8 L469.1 141.0 L469.9 142.2 L470.8 142.7 L471.7 142.9 L472.5 143.9 L473.4 144.4 L474.2 144.1 L475.1 144.3 L476.0 145.5 L476.8 146.9 L477.7 147.4 L478.6 147.1 L479.4 147.0 L480.3 147.0 L481.2 146.7 L482.0 146.6 L482.9 146.8 L483.8 146.6 L484.6 146.5 L485.5 146.5 L486.4 145.9 L487.2 145.3 L488.1 145.2 L489.0 145.3 L489.8 144.8 L490.7 144.2 L491.5 144.0 L492.4 143.6 L493.3 142.9 L494.1 142.9 L495.0 143.4 L495.9 143.5 L496.7 142.7 L497.6 141.7 L498.5 141.2 L499.3 140.7 L500.2 139.6 L501.1 138.1 L501.9 137.3 L502.8 137.0 L503.7 136.2 L504.5 135.6 L505.4 135.4 L506.2 135.5 L507.1 135.2 L508.0 133.8 L508.8 133.0 L509.7 133.2 L510.6 132.4 L511.4 131.1 L512.3 130.6 L513.2 130.6 L514.0 129.7 L514.9 128.0 L515.8 127.0 L516.6 126.7 L517.5 126.3 L518.4 125.7 L519.2 125.4 L520.1 125.0 L521.0 124.5 L521.8 123.8 L522.7 122.7 L523.5 121.6 L524.4 121.0 L525.3 120.6 L526.1 120.1 L527.0 120.0 L527.9 120.5 L528.7 119.7 L529.6 118.4 L530.5 117.7 L531.3 116.3 L532.2 115.6 L533.1 115.4 L533.9 115.0 L534.8 114.8 L535.7 114.2 L536.5 113.6 L537.4 112.9 L538.2 111.8 L539.1 111.1 L540.0 110.5 L540.8 110.1 L541.7 110.1 L542.6 110.0 L543.4 109.7 L544.3 109.1 L545.2 108.2 L546.0 107.6 L546.9 107.9 L547.8 107.8 L548.6 107.0 L549.5 106.6 L550.4 106.8 L551.2 107.0 L552.1 106.8 L553.0 106.4 L553.8 106.2 L554.7 106.3 L555.5 106.0 L556.4 105.5 L557.3 105.7 L558.1 105.8 L559.0 105.3 L559.9 105.1 L560.7 105.1 L561.6 105.4 L562.5 105.9 L563.3 105.9 L564.2 105.9 L565.1 106.5 L565.9 107.2 L566.8 106.9 L567.7 106.4 L568.5 106.7 L569.4 107.2 L570.2 107.9 L571.1 109.0 L572.0 109.9 L572.8 110.2 L573.7 109.1 L574.6 107.9 L575.4 108.4 L576.3 109.8 L577.2 109.9 L578.0 110.0 L578.9 111.5 L579.8 112.3 L580.6 112.0 L581.5 112.5 L582.4 113.0 L583.2 112.8 L584.1 113.3 L585.0 113.8 L585.8 114.3 L586.7 115.7 L587.5 116.6 L588.4 116.6 L589.3 116.9 L590.1 117.4 L591.0 118.2 L591.9 119.1 L592.7 119.7 L593.6 120.1 L594.5 120.7 L595.3 121.0 L596.2 121.3 L597.1 122.2 L597.9 123.0 L598.8 123.5 L599.7 123.6 L600.5 123.6 L601.4 124.5 L602.2 125.1 L603.1 125.2 L604.0 126.4 L604.8 127.9 L605.7 128.4 L606.6 128.1 L607.4 128.0 L608.3 128.5 L609.2 129.4 L610.0 130.2 L610.9 130.3 L611.8 130.6 L612.6 131.0 L613.5 130.9 L614.4 131.8 L615.2 132.4 L616.1 132.4 L617.0 133.4 L617.8 134.3 L618.7 134.7 L619.5 135.8 L620.4 137.3 L621.3 137.5 L622.1 137.8 L623.0 138.4 L623.9 138.6 L624.7 138.7 L625.6 139.3 L626.5 139.8 L627.3 140.4 L628.2 141.7 L629.1 142.5 L629.9 142.4 L630.8 142.3 L631.7 142.5 L632.5 142.8 L633.4 143.1 L634.2 142.9 L635.1 143.3 L636.0 144.7 L636.8 145.9 L637.7 146.4 L638.6 146.2 L639.4 145.5 L640.3 146.1 L641.2 147.0 L642.0 147.1 L642.9 148.5 L643.8 149.9 L644.6 149.4 L645.5 149.7 L646.4 151.4 L647.2 152.6 L648.1 153.3 L649.0 154.7 L649.8 155.9 L650.7 156.9 L651.5 158.4 L652.4 160.1 L653.3 161.4 L654.1 162.7 L655.0 164.1 L655.9 165.1 L656.7 166.0 L657.6 167.1 L658.5 168.2 L659.3 169.1 L660.2 170.0 L661.1 170.9 L661.9 171.5 L662.8 172.1 L663.7 172.6 L664.5 173.0 L665.4 173.2 L666.2 173.5 L667.1 173.8 L668.0 174.0 L668.8 174.1 L669.7 174.2 L670.6 174.3 L671.4 174.5 L672.3 174.5 L673.2 174.5 L674.0 174.6 L674.9 174.6 L675.8 174.7 L676.6 174.7 L677.5 174.7 L678.4 174.7 L679.2 174.7 L680.1 174.7 L681.0 174.8 L681.8 174.8 L682.7 174.8 L683.5 174.8 L684.4 174.8 L685.3 174.8 L686.1 174.8 L687.0 174.8 L687.9 174.8 L688.7 174.8 L689.6 174.8" fill="none" stroke="#e25a4a" stroke-width="1.0" stroke-linejoin="round"/>
<path d="M465.6 134.9 L466.5 135.8 L467.3 137.2 L468.2 138.1 L469.1 138.8 L469.9 139.5 L470.8 140.1 L471.7 140.6 L472.5 141.6 L473.4 142.8 L474.2 142.9 L475.1 143.1 L476.0 144.0 L476.8 144.2 L477.7 144.2 L478.6 144.8 L479.4 145.2 L480.3 145.4 L481.2 145.9 L482.0 146.3 L482.9 146.2 L483.8 145.7 L484.6 145.0 L485.5 144.4 L486.4 144.1 L487.2 143.8 L488.1 144.2 L489.0 144.6 L489.8 144.5 L490.7 144.2 L491.5 143.2 L492.4 142.6 L493.3 142.7 L494.1 142.2 L495.0 141.4 L495.9 141.0 L496.7 140.7 L497.6 140.3 L498.5 139.8 L499.3 139.7 L500.2 139.5 L501.1 138.3 L501.9 137.5 L502.8 137.4 L503.7 136.6 L504.5 135.8 L505.4 134.8 L506.2 133.9 L507.1 133.2 L508.0 132.9 L508.8 132.3 L509.7 130.8 L510.6 130.1 L511.4 130.2 L512.3 129.4 L513.2 128.6 L514.0 128.6 L514.9 127.8 L515.8 126.5 L516.6 125.8 L517.5 124.7 L518.4 123.5 L519.2 123.6 L520.1 123.5 L521.0 122.8 L521.8 122.7 L522.7 121.4 L523.5 119.6 L524.4 119.5 L525.3 119.5 L526.1 119.0 L527.0 118.0 L527.9 117.6 L528.7 117.8 L529.6 116.5 L530.5 114.6 L531.3 113.7 L532.2 113.6 L533.1 113.4 L533.9 112.7 L534.8 112.2 L535.7 111.8 L536.5 110.4 L537.4 109.4 L538.2 109.4 L539.1 108.9 L540.0 108.7 L540.8 109.2 L541.7 108.7 L542.6 107.9 L543.4 107.3 L544.3 106.9 L545.2 107.0 L546.0 106.5 L546.9 105.5 L547.8 105.4 L548.6 105.6 L549.5 104.7 L550.4 103.9 L551.2 104.6 L552.1 104.9 L553.0 103.5 L553.8 102.4 L554.7 103.0 L555.5 104.4 L556.4 104.5 L557.3 103.4 L558.1 103.1 L559.0 103.3 L559.9 103.0 L560.7 102.7 L561.6 103.2 L562.5 103.7 L563.3 104.0 L564.2 104.3 L565.1 104.2 L565.9 104.6 L566.8 105.6 L567.7 105.8 L568.5 105.9 L569.4 105.9 L570.2 105.1 L571.1 104.8 L572.0 105.7 L572.8 107.2 L573.7 107.5 L574.6 107.0 L575.4 107.2 L576.3 108.1 L577.2 109.2 L578.0 109.3 L578.9 108.6 L579.8 109.3 L580.6 110.6 L581.5 110.8 L582.4 110.7 L583.2 111.5 L584.1 112.4 L585.0 112.8 L585.8 112.9 L586.7 113.6 L587.5 114.8 L588.4 115.2 L589.3 115.7 L590.1 116.5 L591.0 116.9 L591.9 117.4 L592.7 118.3 L593.6 118.6 L594.5 118.7 L595.3 119.6 L596.2 120.1 L597.1 120.3 L597.9 120.9 L598.8 121.6 L599.7 122.3 L600.5 122.8 L601.4 123.2 L602.2 124.4 L603.1 125.2 L604.0 125.3 L604.8 126.2 L605.7 126.8 L606.6 126.7 L607.4 127.0 L608.3 127.9 L609.2 128.7 L610.0 129.1 L610.9 129.5 L611.8 130.1 L612.6 130.2 L613.5 130.4 L614.4 131.5 L615.2 132.6 L616.1 133.4 L617.0 134.1 L617.8 134.8 L618.7 135.2 L619.5 135.3 L620.4 135.2 L621.3 135.7 L622.1 136.4 L623.0 137.2 L623.9 137.5 L624.7 136.6 L625.6 136.7 L626.5 138.2 L627.3 139.0 L628.2 139.4 L629.1 139.9 L629.9 141.0 L630.8 141.6 L631.7 141.6 L632.5 142.0 L633.4 142.4 L634.2 143.1 L635.1 143.2 L636.0 142.6 L636.8 142.7 L637.7 143.9 L638.6 144.7 L639.4 145.1 L640.3 146.1 L641.2 147.1 L642.0 147.7 L642.9 148.4 L643.8 148.6 L644.6 149.0 L645.5 150.2 L646.4 151.6 L647.2 152.4 L648.1 152.5 L649.0 153.1 L649.8 154.6 L650.7 156.5 L651.5 158.2 L652.4 159.3 L653.3 160.6 L654.1 161.9 L655.0 163.2 L655.9 164.4 L656.7 165.6 L657.6 167.0 L658.5 168.2 L659.3 169.1 L660.2 170.1 L661.1 170.8 L661.9 171.5 L662.8 172.1 L663.7 172.6 L664.5 173.0 L665.4 173.3 L666.2 173.5 L667.1 173.8 L668.0 174.0 L668.8 174.1 L669.7 174.3 L670.6 174.3 L671.4 174.4 L672.3 174.5 L673.2 174.6 L674.0 174.6 L674.9 174.6 L675.8 174.6 L676.6 174.7 L677.5 174.7 L678.4 174.7 L679.2 174.8 L680.1 174.8 L681.0 174.8 L681.8 174.8 L682.7 174.8 L683.5 174.8 L684.4 174.8 L685.3 174.8 L686.1 174.8 L687.0 174.8 L687.9 174.8 L688.7 174.8 L689.6 174.8" fill="none" stroke="#f0a020" stroke-width="1.0" stroke-linejoin="round"/>
<path d="M465.6 145.3 L466.5 146.0 L467.3 146.4 L468.2 146.3 L469.1 146.4 L469.9 146.4 L470.8 146.4 L471.7 147.0 L472.5 147.4 L473.4 147.8 L474.2 148.3 L475.1 147.8 L476.0 147.1 L476.8 147.2 L477.7 147.9 L478.6 147.9 L479.4 147.4 L480.3 147.5 L481.2 147.3 L482.0 146.4 L482.9 145.9 L483.8 145.8 L484.6 145.4 L485.5 144.6 L486.4 144.4 L487.2 144.0 L488.1 142.8 L489.0 142.2 L489.8 142.0 L490.7 140.9 L491.5 139.9 L492.4 140.1 L493.3 140.0 L494.1 138.7 L495.0 137.9 L495.9 137.4 L496.7 136.3 L497.6 135.8 L498.5 135.1 L499.3 133.9 L500.2 133.0 L501.1 132.1 L501.9 131.4 L502.8 130.6 L503.7 129.7 L504.5 128.6 L505.4 127.4 L506.2 126.5 L507.1 125.7 L508.0 124.5 L508.8 123.4 L509.7 122.2 L510.6 121.4 L511.4 121.0 L512.3 120.3 L513.2 118.8 L514.0 117.3 L514.9 116.4 L515.8 115.6 L516.6 115.0 L517.5 114.5 L518.4 114.0 L519.2 113.1 L520.1 111.5 L521.0 110.1 L521.8 109.0 L522.7 108.0 L523.5 107.0 L524.4 105.9 L525.3 105.2 L526.1 104.4 L527.0 103.4 L527.9 101.9 L528.7 100.6 L529.6 100.1 L530.5 98.9 L531.3 97.6 L532.2 96.6 L533.1 95.6 L533.9 94.5 L534.8 93.7 L535.7 92.9 L536.5 91.9 L537.4 91.3 L538.2 91.2 L539.1 90.7 L540.0 89.6 L540.8 88.6 L541.7 87.8 L542.6 87.9 L543.4 87.6 L544.3 86.7 L545.2 86.6 L546.0 86.3 L546.9 85.5 L547.8 85.0 L548.6 84.5 L549.5 84.2 L550.4 83.8 L551.2 83.7 L552.1 84.0 L553.0 83.5 L553.8 82.9 L554.7 82.4 L555.5 81.7 L556.4 81.4 L557.3 81.8 L558.1 81.6 L559.0 80.8 L559.9 80.9 L560.7 81.7 L561.6 82.7 L562.5 83.0 L563.3 82.6 L564.2 82.2 L565.1 81.5 L565.9 81.4 L566.8 82.6 L567.7 83.1 L568.5 82.8 L569.4 82.9 L570.2 83.2 L571.1 84.2 L572.0 84.5 L572.8 84.1 L573.7 85.0 L574.6 86.3 L575.4 86.8 L576.3 87.3 L577.2 88.0 L578.0 88.0 L578.9 88.6 L579.8 89.7 L580.6 90.1 L581.5 90.2 L582.4 91.4 L583.2 93.1 L584.1 94.3 L585.0 94.5 L585.8 94.0 L586.7 94.6 L587.5 96.5 L588.4 97.8 L589.3 97.8 L590.1 97.9 L591.0 98.6 L591.9 99.6 L592.7 100.8 L593.6 102.1 L594.5 102.8 L595.3 103.1 L596.2 103.4 L597.1 103.5 L597.9 104.3 L598.8 105.3 L599.7 105.8 L600.5 106.8 L601.4 107.6 L602.2 108.3 L603.1 110.1 L604.0 111.0 L604.8 111.0 L605.7 110.9 L606.6 111.0 L607.4 111.9 L608.3 113.1 L609.2 113.8 L610.0 114.1 L610.9 114.6 L611.8 115.2 L612.6 116.1 L613.5 116.9 L614.4 117.6 L615.2 118.3 L616.1 119.1 L617.0 119.7 L617.8 120.1 L618.7 120.6 L619.5 121.1 L620.4 120.9 L621.3 121.1 L622.1 121.7 L623.0 122.1 L623.9 122.2 L624.7 122.3 L625.6 122.9 L626.5 123.2 L627.3 123.6 L628.2 124.5 L629.1 125.3 L629.9 125.5 L630.8 125.4 L631.7 126.1 L632.5 126.7 L633.4 126.9 L634.2 127.9 L635.1 129.3 L636.0 130.0 L636.8 129.6 L637.7 129.2 L638.6 129.9 L639.4 130.5 L640.3 131.7 L641.2 133.6 L642.0 135.0 L642.9 135.6 L643.8 136.3 L644.6 137.6 L645.5 138.8 L646.4 140.2 L647.2 142.3 L648.1 144.3 L649.0 145.6 L649.8 147.1 L650.7 149.5 L651.5 151.8 L652.4 153.6 L653.3 155.2 L654.1 156.9 L655.0 158.9 L655.9 160.8 L656.7 162.4 L657.6 164.0 L658.5 165.7 L659.3 167.1 L660.2 168.2 L661.1 169.2 L661.9 170.0 L662.8 170.8 L663.7 171.5 L664.5 172.2 L665.4 172.7 L666.2 173.1 L667.1 173.4 L668.0 173.6 L668.8 173.9 L669.7 174.0 L670.6 174.2 L671.4 174.3 L672.3 174.4 L673.2 174.5 L674.0 174.5 L674.9 174.5 L675.8 174.6 L676.6 174.6 L677.5 174.7 L678.4 174.7 L679.2 174.7 L680.1 174.7 L681.0 174.8 L681.8 174.7 L682.7 174.7 L683.5 174.8 L684.4 174.8 L685.3 174.8 L686.1 174.8 L687.0 174.8 L687.9 174.8 L688.7 174.8 L689.6 174.8" fill="none" stroke="#c8c8c8" stroke-width="0.9" stroke-linejoin="round"/>
<path d="M465.6 141.5 L466.5 141.9 L467.3 142.9 L468.2 143.1 L469.1 142.6 L469.9 143.0 L470.8 143.7 L471.7 144.5 L472.5 144.9 L473.4 144.3 L474.2 144.4 L475.1 145.0 L476.0 145.7 L476.8 145.6 L477.7 145.1 L478.6 145.5 L479.4 145.9 L480.3 145.9 L481.2 145.3 L482.0 144.3 L482.9 144.2 L483.8 143.9 L484.6 142.5 L485.5 141.4 L486.4 141.6 L487.2 141.8 L488.1 140.8 L489.0 139.7 L489.8 139.8 L490.7 139.4 L491.5 138.7 L492.4 138.2 L493.3 136.7 L494.1 135.2 L495.0 134.2 L495.9 133.4 L496.7 132.9 L497.6 132.4 L498.5 131.7 L499.3 131.1 L500.2 130.3 L501.1 129.0 L501.9 127.7 L502.8 126.5 L503.7 125.2 L504.5 123.8 L505.4 122.7 L506.2 122.2 L507.1 121.7 L508.0 119.8 L508.8 117.5 L509.7 116.5 L510.6 116.0 L511.4 115.0 L512.3 113.8 L513.2 112.7 L514.0 111.3 L514.9 109.7 L515.8 108.6 L516.6 108.0 L517.5 107.1 L518.4 105.9 L519.2 104.4 L520.1 103.1 L521.0 101.9 L521.8 100.1 L522.7 98.9 L523.5 98.2 L524.4 97.5 L525.3 96.5 L526.1 95.0 L527.0 93.9 L527.9 92.9 L528.7 91.5 L529.6 90.2 L530.5 88.4 L531.3 86.8 L532.2 86.0 L533.1 85.2 L533.9 84.2 L534.8 83.1 L535.7 81.8 L536.5 80.5 L537.4 79.4 L538.2 78.5 L539.1 78.2 L540.0 77.9 L540.8 77.4 L541.7 76.8 L542.6 76.0 L543.4 74.8 L544.3 73.5 L545.2 72.7 L546.0 72.6 L546.9 72.9 L547.8 72.2 L548.6 71.1 L549.5 71.0 L550.4 70.9 L551.2 70.4 L552.1 69.9 L553.0 69.6 L553.8 69.1 L554.7 68.7 L555.5 68.6 L556.4 68.6 L557.3 68.4 L558.1 68.4 L559.0 68.5 L559.9 68.3 L560.7 68.1 L561.6 68.1 L562.5 68.4 L563.3 68.6 L564.2 68.8 L565.1 68.9 L565.9 68.5 L566.8 68.6 L567.7 68.9 L568.5 69.1 L569.4 69.8 L570.2 70.1 L571.1 69.7 L572.0 69.8 L572.8 70.7 L573.7 71.4 L574.6 72.4 L575.4 73.4 L576.3 73.6 L577.2 73.9 L578.0 74.8 L578.9 76.0 L579.8 77.6 L580.6 78.7 L581.5 79.0 L582.4 79.8 L583.2 80.5 L584.1 81.2 L585.0 81.7 L585.8 82.6 L586.7 84.1 L587.5 84.8 L588.4 85.0 L589.3 85.5 L590.1 86.8 L591.0 88.2 L591.9 88.6 L592.7 89.0 L593.6 90.3 L594.5 91.2 L595.3 92.1 L596.2 93.4 L597.1 94.6 L597.9 95.7 L598.8 96.0 L599.7 96.0 L600.5 97.2 L601.4 98.3 L602.2 98.7 L603.1 99.9 L604.0 100.7 L604.8 100.6 L605.7 101.4 L606.6 102.4 L607.4 103.0 L608.3 104.0 L609.2 105.2 L610.0 106.1 L610.9 106.9 L611.8 107.2 L612.6 107.8 L613.5 108.8 L614.4 110.0 L615.2 111.3 L616.1 111.6 L617.0 111.4 L617.8 111.9 L618.7 112.5 L619.5 112.9 L620.4 113.6 L621.3 114.3 L622.1 115.2 L623.0 116.0 L623.9 115.6 L624.7 115.2 L625.6 115.9 L626.5 116.8 L627.3 117.4 L628.2 117.6 L629.1 117.6 L629.9 118.3 L630.8 119.4 L631.7 120.2 L632.5 120.7 L633.4 121.4 L634.2 121.9 L635.1 122.8 L636.0 123.6 L636.8 123.7 L637.7 124.3 L638.6 125.4 L639.4 126.0 L640.3 126.6 L641.2 127.4 L642.0 128.8 L642.9 129.9 L643.8 131.1 L644.6 133.0 L645.5 134.6 L646.4 135.8 L647.2 137.6 L648.1 139.9 L649.0 141.8 L649.8 142.9 L650.7 144.7 L651.5 147.3 L652.4 149.4 L653.3 151.3 L654.1 153.7 L655.0 156.3 L655.9 158.2 L656.7 159.8 L657.6 161.5 L658.5 163.5 L659.3 165.2 L660.2 166.7 L661.1 168.2 L661.9 169.4 L662.8 170.3 L663.7 171.0 L664.5 171.8 L665.4 172.4 L666.2 172.9 L667.1 173.3 L668.0 173.5 L668.8 173.8 L669.7 174.0 L670.6 174.1 L671.4 174.2 L672.3 174.3 L673.2 174.4 L674.0 174.4 L674.9 174.5 L675.8 174.6 L676.6 174.6 L677.5 174.6 L678.4 174.7 L679.2 174.7 L680.1 174.7 L681.0 174.7 L681.8 174.7 L682.7 174.7 L683.5 174.8 L684.4 174.8 L685.3 174.8 L686.1 174.8 L687.0 174.8 L687.9 174.8 L688.7 174.8 L689.6 174.8" fill="none" stroke="#f4ee30" stroke-width="1.1" stroke-linejoin="round"/>
<path d="M465.6 144.5 L466.5 144.1 L467.3 143.5 L468.2 143.9 L469.1 144.6 L469.9 144.8 L470.8 145.0 L471.7 145.5 L472.5 145.8 L473.4 146.3 L474.2 146.7 L475.1 146.5 L476.0 145.8 L476.8 145.4 L477.7 145.6 L478.6 145.8 L479.4 145.3 L480.3 145.2 L481.2 145.5 L482.0 145.2 L482.9 144.9 L483.8 144.4 L484.6 143.2 L485.5 142.1 L486.4 141.2 L487.2 140.3 L488.1 139.2 L489.0 138.6 L489.8 138.2 L490.7 137.2 L491.5 135.8 L492.4 135.2 L493.3 135.1 L494.1 134.4 L495.0 132.9 L495.9 131.8 L496.7 131.1 L497.6 130.2 L498.5 129.6 L499.3 128.4 L500.2 126.9 L501.1 126.0 L501.9 124.8 L502.8 123.6 L503.7 122.8 L504.5 121.9 L505.4 120.2 L506.2 118.4 L507.1 116.9 L508.0 115.4 L508.8 114.2 L509.7 113.4 L510.6 111.9 L511.4 110.0 L512.3 108.9 L513.2 108.2 L514.0 106.9 L514.9 105.2 L515.8 104.0 L516.6 103.1 L517.5 101.9 L518.4 100.7 L519.2 99.2 L520.1 97.8 L521.0 96.9 L521.8 95.7 L522.7 94.6 L523.5 93.2 L524.4 91.5 L525.3 90.5 L526.1 89.4 L527.0 87.9 L527.9 86.1 L528.7 84.1 L529.6 82.6 L530.5 81.5 L531.3 80.3 L532.2 79.0 L533.1 77.4 L533.9 76.6 L534.8 75.8 L535.7 74.5 L536.5 73.5 L537.4 72.9 L538.2 72.1 L539.1 70.5 L540.0 69.4 L540.8 69.1 L541.7 68.6 L542.6 67.3 L543.4 66.5 L544.3 66.6 L545.2 66.1 L546.0 65.1 L546.9 64.6 L547.8 64.0 L548.6 63.1 L549.5 62.3 L550.4 61.6 L551.2 61.1 L552.1 61.0 L553.0 61.6 L553.8 61.7 L554.7 60.7 L555.5 59.9 L556.4 59.8 L557.3 59.6 L558.1 59.4 L559.0 59.7 L559.9 59.3 L560.7 58.8 L561.6 58.6 L562.5 58.6 L563.3 59.0 L564.2 59.4 L565.1 59.6 L565.9 59.6 L566.8 59.7 L567.7 60.2 L568.5 61.3 L569.4 61.9 L570.2 61.6 L571.1 62.0 L572.0 63.1 L572.8 63.7 L573.7 63.7 L574.6 63.9 L575.4 64.3 L576.3 64.9 L577.2 65.9 L578.0 66.5 L578.9 67.1 L579.8 67.9 L580.6 68.6 L581.5 70.0 L582.4 71.6 L583.2 72.8 L584.1 73.5 L585.0 74.3 L585.8 75.2 L586.7 76.0 L587.5 77.0 L588.4 78.1 L589.3 79.4 L590.1 79.8 L591.0 79.9 L591.9 80.9 L592.7 82.2 L593.6 83.7 L594.5 84.5 L595.3 84.5 L596.2 85.1 L597.1 86.3 L597.9 87.4 L598.8 88.3 L599.7 89.4 L600.5 90.2 L601.4 91.2 L602.2 92.3 L603.1 92.8 L604.0 93.6 L604.8 95.0 L605.7 96.6 L606.6 97.7 L607.4 98.0 L608.3 98.2 L609.2 98.8 L610.0 99.9 L610.9 100.9 L611.8 101.7 L612.6 102.6 L613.5 103.2 L614.4 104.0 L615.2 104.8 L616.1 105.7 L617.0 106.7 L617.8 107.2 L618.7 107.4 L619.5 108.1 L620.4 108.6 L621.3 109.1 L622.1 109.6 L623.0 109.8 L623.9 110.6 L624.7 111.8 L625.6 112.3 L626.5 112.9 L627.3 113.4 L628.2 113.4 L629.1 114.2 L629.9 115.4 L630.8 115.5 L631.7 115.2 L632.5 115.3 L633.4 115.7 L634.2 116.7 L635.1 117.2 L636.0 117.1 L636.8 118.0 L637.7 119.6 L638.6 120.6 L639.4 121.8 L640.3 123.2 L641.2 124.2 L642.0 125.1 L642.9 126.5 L643.8 127.6 L644.6 128.2 L645.5 129.9 L646.4 132.5 L647.2 134.8 L648.1 136.8 L649.0 139.3 L649.8 141.2 L650.7 142.6 L651.5 144.7 L652.4 147.3 L653.3 149.7 L654.1 152.4 L655.0 155.0 L655.9 156.9 L656.7 158.7 L657.6 160.9 L658.5 162.9 L659.3 164.7 L660.2 166.6 L661.1 168.0 L661.9 169.1 L662.8 170.0 L663.7 170.9 L664.5 171.8 L665.4 172.3 L666.2 172.7 L667.1 173.1 L668.0 173.4 L668.8 173.7 L669.7 173.9 L670.6 174.0 L671.4 174.2 L672.3 174.3 L673.2 174.4 L674.0 174.4 L674.9 174.5 L675.8 174.5 L676.6 174.6 L677.5 174.6 L678.4 174.7 L679.2 174.7 L680.1 174.7 L681.0 174.8 L681.8 174.8 L682.7 174.8 L683.5 174.8 L684.4 174.8 L685.3 174.8 L686.1 174.8 L687.0 174.8 L687.9 174.8 L688.7 174.8 L689.6 174.8" fill="none" stroke="#5fe6de" stroke-width="2.0" stroke-linejoin="round"/>
<path d="M465.6 142.3 L466.5 142.0 L467.3 142.0 L468.2 142.3 L469.1 142.7 L469.9 143.1 L470.8 143.4 L471.7 144.2 L472.5 144.9 L473.4 145.0 L474.2 144.4 L475.1 143.8 L476.0 144.2 L476.8 144.4 L477.7 144.1 L478.6 144.6 L479.4 144.9 L480.3 144.4 L481.2 144.0 L482.0 143.8 L482.9 142.9 L483.8 141.6 L484.6 140.4 L485.5 140.0 L486.4 139.9 L487.2 139.6 L488.1 139.3 L489.0 138.7 L489.8 137.8 L490.7 137.1 L491.5 135.5 L492.4 133.9 L493.3 133.3 L494.1 132.7 L495.0 132.3 L495.9 131.5 L496.7 130.0 L497.6 128.6 L498.5 127.4 L499.3 126.1 L500.2 125.0 L501.1 123.9 L501.9 122.4 L502.8 121.0 L503.7 120.1 L504.5 118.7 L505.4 116.9 L506.2 115.6 L507.1 114.9 L508.0 113.9 L508.8 112.0 L509.7 110.1 L510.6 109.1 L511.4 108.2 L512.3 106.9 L513.2 105.4 L514.0 103.8 L514.9 102.5 L515.8 101.6 L516.6 100.0 L517.5 97.9 L518.4 96.9 L519.2 96.2 L520.1 94.6 L521.0 92.7 L521.8 91.1 L522.7 89.9 L523.5 88.7 L524.4 87.3 L525.3 86.3 L526.1 84.5 L527.0 82.2 L527.9 80.7 L528.7 79.6 L529.6 78.5 L530.5 77.1 L531.3 75.4 L532.2 73.5 L533.1 72.1 L533.9 71.4 L534.8 70.4 L535.7 69.3 L536.5 67.9 L537.4 66.0 L538.2 64.9 L539.1 64.7 L540.0 64.3 L540.8 63.0 L541.7 62.0 L542.6 61.7 L543.4 60.9 L544.3 59.7 L545.2 59.1 L546.0 58.5 L546.9 58.0 L547.8 57.4 L548.6 56.7 L549.5 56.6 L550.4 56.2 L551.2 55.2 L552.1 54.3 L553.0 53.9 L553.8 54.2 L554.7 54.1 L555.5 53.5 L556.4 53.3 L557.3 53.5 L558.1 53.7 L559.0 53.2 L559.9 52.7 L560.7 52.7 L561.6 52.3 L562.5 51.8 L563.3 52.1 L564.2 53.1 L565.1 54.2 L565.9 54.5 L566.8 54.4 L567.7 54.3 L568.5 54.6 L569.4 54.9 L570.2 54.8 L571.1 55.4 L572.0 56.4 L572.8 56.5 L573.7 56.6 L574.6 57.3 L575.4 58.1 L576.3 58.7 L577.2 59.5 L578.0 60.6 L578.9 61.7 L579.8 62.7 L580.6 63.5 L581.5 64.6 L582.4 65.7 L583.2 66.5 L584.1 67.0 L585.0 68.1 L585.8 69.4 L586.7 70.2 L587.5 71.0 L588.4 71.9 L589.3 72.9 L590.1 74.1 L591.0 75.4 L591.9 76.6 L592.7 77.0 L593.6 77.8 L594.5 79.1 L595.3 79.7 L596.2 80.2 L597.1 81.1 L597.9 82.0 L598.8 83.3 L599.7 84.3 L600.5 85.0 L601.4 86.4 L602.2 87.6 L603.1 88.3 L604.0 89.4 L604.8 90.5 L605.7 91.4 L606.6 91.9 L607.4 92.7 L608.3 94.1 L609.2 94.9 L610.0 95.7 L610.9 96.7 L611.8 97.6 L612.6 98.6 L613.5 99.8 L614.4 100.5 L615.2 100.8 L616.1 101.1 L617.0 101.7 L617.8 102.5 L618.7 103.3 L619.5 104.0 L620.4 104.5 L621.3 105.5 L622.1 106.1 L623.0 106.8 L623.9 107.2 L624.7 107.2 L625.6 108.1 L626.5 109.3 L627.3 109.7 L628.2 109.8 L629.1 110.1 L629.9 111.1 L630.8 111.9 L631.7 112.5 L632.5 113.0 L633.4 113.0 L634.2 113.1 L635.1 113.9 L636.0 115.1 L636.8 116.0 L637.7 116.6 L638.6 117.2 L639.4 118.2 L640.3 119.6 L641.2 120.9 L642.0 122.5 L642.9 124.2 L643.8 125.8 L644.6 127.0 L645.5 128.2 L646.4 130.2 L647.2 132.6 L648.1 134.7 L649.0 136.8 L649.8 138.7 L650.7 140.7 L651.5 143.3 L652.4 146.1 L653.3 148.6 L654.1 151.1 L655.0 153.8 L655.9 156.2 L656.7 158.7 L657.6 160.7 L658.5 162.3 L659.3 164.1 L660.2 165.9 L661.1 167.4 L661.9 168.5 L662.8 169.5 L663.7 170.5 L664.5 171.4 L665.4 172.1 L666.2 172.6 L667.1 173.0 L668.0 173.3 L668.8 173.6 L669.7 173.8 L670.6 174.0 L671.4 174.2 L672.3 174.3 L673.2 174.3 L674.0 174.4 L674.9 174.4 L675.8 174.5 L676.6 174.5 L677.5 174.6 L678.4 174.6 L679.2 174.7 L680.1 174.7 L681.0 174.7 L681.8 174.7 L682.7 174.8 L683.5 174.8 L684.4 174.8 L685.3 174.8 L686.1 174.8 L687.0 174.8 L687.9 174.8 L688.7 174.8 L689.6 174.8" fill="none" stroke="#e0202a" stroke-width="1.1" stroke-linejoin="round"/>
<path d="M465.6 138.4 L466.5 138.8 L467.3 139.2 L468.2 139.3 L469.1 139.3 L469.9 139.4 L470.8 139.7 L471.7 140.5 L472.5 141.2 L473.4 141.5 L474.2 141.5 L475.1 141.7 L476.0 142.1 L476.8 142.3 L477.7 142.4 L478.6 142.5 L479.4 142.0 L480.3 141.5 L481.2 141.4 L482.0 141.0 L482.9 140.0 L483.8 139.7 L484.6 139.7 L485.5 139.0 L486.4 138.2 L487.2 137.4 L488.1 136.5 L489.0 135.9 L489.8 134.9 L490.7 133.2 L491.5 131.7 L492.4 131.0 L493.3 130.5 L494.1 129.6 L495.0 128.3 L495.9 126.9 L496.7 125.9 L497.6 124.7 L498.5 123.1 L499.3 122.1 L500.2 121.5 L501.1 120.6 L501.9 119.4 L502.8 117.7 L503.7 115.6 L504.5 114.1 L505.4 112.7 L506.2 111.4 L507.1 110.2 L508.0 108.5 L508.8 106.9 L509.7 105.5 L510.6 104.0 L511.4 102.7 L512.3 101.4 L513.2 99.9 L514.0 98.5 L514.9 97.1 L515.8 95.7 L516.6 94.8 L517.5 93.2 L518.4 90.9 L519.2 88.7 L520.1 87.5 L521.0 86.2 L521.8 84.3 L522.7 82.9 L523.5 81.7 L524.4 79.6 L525.3 77.4 L526.1 75.9 L527.0 74.9 L527.9 73.3 L528.7 71.4 L529.6 70.0 L530.5 68.2 L531.3 66.5 L532.2 65.3 L533.1 63.9 L533.9 62.3 L534.8 60.6 L535.7 59.1 L536.5 57.9 L537.4 56.8 L538.2 55.7 L539.1 54.8 L540.0 53.4 L540.8 52.2 L541.7 51.8 L542.6 51.3 L543.4 50.1 L544.3 48.9 L545.2 48.4 L546.0 48.3 L546.9 47.8 L547.8 47.1 L548.6 46.3 L549.5 45.5 L550.4 45.3 L551.2 44.9 L552.1 43.8 L553.0 43.2 L553.8 43.1 L554.7 42.9 L555.5 42.3 L556.4 42.0 L557.3 41.7 L558.1 41.3 L559.0 41.1 L559.9 41.1 L560.7 40.8 L561.6 41.0 L562.5 41.3 L563.3 41.2 L564.2 41.1 L565.1 41.1 L565.9 41.6 L566.8 42.2 L567.7 42.3 L568.5 42.8 L569.4 43.8 L570.2 44.4 L571.1 44.4 L572.0 44.5 L572.8 45.1 L573.7 46.2 L574.6 47.6 L575.4 48.4 L576.3 48.7 L577.2 49.2 L578.0 49.7 L578.9 50.6 L579.8 51.8 L580.6 52.6 L581.5 53.9 L582.4 55.1 L583.2 56.4 L584.1 57.4 L585.0 57.8 L585.8 58.8 L586.7 60.1 L587.5 61.8 L588.4 63.4 L589.3 64.5 L590.1 65.6 L591.0 67.1 L591.9 67.9 L592.7 68.2 L593.6 69.1 L594.5 69.9 L595.3 70.8 L596.2 72.2 L597.1 73.2 L597.9 73.9 L598.8 75.1 L599.7 76.5 L600.5 78.0 L601.4 79.0 L602.2 79.7 L603.1 80.6 L604.0 81.4 L604.8 82.4 L605.7 83.5 L606.6 84.6 L607.4 85.6 L608.3 86.9 L609.2 88.7 L610.0 89.6 L610.9 89.7 L611.8 90.5 L612.6 92.1 L613.5 93.0 L614.4 93.1 L615.2 93.8 L616.1 95.3 L617.0 96.5 L617.8 96.7 L618.7 96.9 L619.5 97.7 L620.4 98.5 L621.3 99.4 L622.1 100.3 L623.0 100.7 L623.9 101.2 L624.7 102.2 L625.6 103.2 L626.5 103.6 L627.3 103.9 L628.2 104.4 L629.1 104.7 L629.9 105.4 L630.8 106.1 L631.7 106.6 L632.5 106.9 L633.4 107.0 L634.2 107.9 L635.1 109.4 L636.0 110.6 L636.8 111.4 L637.7 111.6 L638.6 112.2 L639.4 113.6 L640.3 114.8 L641.2 115.4 L642.0 116.6 L642.9 118.8 L643.8 120.7 L644.6 122.2 L645.5 123.6 L646.4 125.6 L647.2 128.0 L648.1 130.6 L649.0 133.3 L649.8 136.0 L650.7 138.5 L651.5 140.7 L652.4 143.4 L653.3 146.4 L654.1 149.4 L655.0 152.6 L655.9 155.4 L656.7 157.5 L657.6 159.4 L658.5 161.3 L659.3 163.1 L660.2 164.9 L661.1 166.8 L661.9 168.2 L662.8 169.4 L663.7 170.5 L664.5 171.3 L665.4 171.9 L666.2 172.5 L667.1 173.0 L668.0 173.3 L668.8 173.6 L669.7 173.8 L670.6 174.0 L671.4 174.1 L672.3 174.2 L673.2 174.3 L674.0 174.4 L674.9 174.5 L675.8 174.5 L676.6 174.5 L677.5 174.6 L678.4 174.6 L679.2 174.7 L680.1 174.7 L681.0 174.7 L681.8 174.8 L682.7 174.8 L683.5 174.8 L684.4 174.8 L685.3 174.8 L686.1 174.8 L687.0 174.8 L687.9 174.8 L688.7 174.8 L689.6 174.8" fill="none" stroke="#262a78" stroke-width="1.1" stroke-linejoin="round"/>
<path d="M465.6 139.1 L466.5 139.0 L467.3 139.3 L468.2 139.6 L469.1 139.9 L469.9 140.8 L470.8 141.7 L471.7 141.4 L472.5 141.2 L473.4 142.1 L474.2 143.0 L475.1 142.9 L476.0 142.4 L476.8 142.2 L477.7 142.0 L478.6 141.4 L479.4 141.0 L480.3 141.1 L481.2 140.9 L482.0 140.5 L482.9 139.7 L483.8 138.9 L484.6 138.6 L485.5 138.2 L486.4 136.9 L487.2 135.8 L488.1 135.0 L489.0 133.9 L489.8 133.5 L490.7 133.4 L491.5 132.6 L492.4 131.6 L493.3 130.5 L494.1 129.3 L495.0 127.8 L495.9 126.8 L496.7 126.0 L497.6 124.4 L498.5 122.8 L499.3 121.5 L500.2 120.7 L501.1 119.9 L501.9 117.9 L502.8 115.9 L503.7 114.4 L504.5 113.2 L505.4 112.0 L506.2 110.6 L507.1 109.0 L508.0 107.3 L508.8 105.4 L509.7 103.5 L510.6 101.8 L511.4 100.4 L512.3 99.0 L513.2 97.4 L514.0 96.2 L514.9 94.8 L515.8 92.9 L516.6 91.4 L517.5 89.8 L518.4 87.9 L519.2 86.4 L520.1 84.6 L521.0 82.7 L521.8 81.1 L522.7 79.8 L523.5 78.8 L524.4 78.0 L525.3 76.5 L526.1 73.7 L527.0 70.9 L527.9 69.5 L528.7 68.1 L529.6 66.0 L530.5 64.1 L531.3 62.6 L532.2 61.1 L533.1 59.8 L533.9 58.7 L534.8 57.8 L535.7 56.7 L536.5 54.9 L537.4 53.3 L538.2 51.8 L539.1 50.8 L540.0 50.4 L540.8 49.4 L541.7 48.1 L542.6 47.4 L543.4 46.3 L544.3 45.1 L545.2 44.5 L546.0 43.9 L546.9 43.2 L547.8 42.6 L548.6 41.8 L549.5 41.2 L550.4 40.8 L551.2 40.0 L552.1 39.4 L553.0 39.4 L553.8 39.3 L554.7 38.8 L555.5 37.9 L556.4 37.6 L557.3 37.9 L558.1 37.9 L559.0 37.7 L559.9 37.1 L560.7 36.8 L561.6 37.0 L562.5 37.4 L563.3 37.4 L564.2 37.1 L565.1 37.4 L565.9 37.8 L566.8 37.7 L567.7 37.8 L568.5 38.4 L569.4 39.3 L570.2 39.6 L571.1 39.9 L572.0 40.5 L572.8 40.5 L573.7 40.6 L574.6 41.7 L575.4 43.2 L576.3 44.3 L577.2 44.7 L578.0 45.5 L578.9 46.7 L579.8 47.7 L580.6 48.8 L581.5 49.8 L582.4 50.8 L583.2 52.0 L584.1 53.0 L585.0 54.4 L585.8 55.7 L586.7 56.6 L587.5 57.7 L588.4 59.1 L589.3 60.1 L590.1 60.8 L591.0 61.9 L591.9 63.4 L592.7 64.4 L593.6 65.0 L594.5 66.2 L595.3 67.6 L596.2 68.6 L597.1 69.3 L597.9 70.1 L598.8 71.2 L599.7 72.1 L600.5 73.8 L601.4 75.9 L602.2 77.3 L603.1 78.0 L604.0 78.6 L604.8 79.7 L605.7 80.9 L606.6 81.5 L607.4 82.4 L608.3 83.6 L609.2 84.9 L610.0 85.7 L610.9 86.6 L611.8 87.9 L612.6 88.9 L613.5 89.9 L614.4 90.8 L615.2 91.8 L616.1 92.9 L617.0 93.3 L617.8 94.1 L618.7 95.1 L619.5 95.9 L620.4 97.1 L621.3 97.7 L622.1 97.5 L623.0 98.2 L623.9 99.1 L624.7 99.5 L625.6 100.3 L626.5 101.1 L627.3 101.5 L628.2 101.8 L629.1 102.6 L629.9 103.7 L630.8 104.2 L631.7 104.2 L632.5 104.7 L633.4 105.4 L634.2 106.0 L635.1 106.9 L636.0 108.1 L636.8 108.5 L637.7 108.8 L638.6 110.0 L639.4 111.5 L640.3 112.4 L641.2 113.2 L642.0 114.9 L642.9 116.7 L643.8 118.5 L644.6 120.7 L645.5 122.3 L646.4 123.9 L647.2 126.2 L648.1 128.5 L649.0 130.9 L649.8 133.1 L650.7 135.8 L651.5 139.4 L652.4 142.6 L653.3 145.6 L654.1 148.6 L655.0 151.1 L655.9 153.5 L656.7 155.9 L657.6 158.7 L658.5 161.3 L659.3 163.4 L660.2 165.1 L661.1 166.4 L661.9 167.7 L662.8 169.1 L663.7 170.2 L664.5 171.1 L665.4 171.8 L666.2 172.4 L667.1 172.9 L668.0 173.3 L668.8 173.5 L669.7 173.8 L670.6 173.9 L671.4 174.1 L672.3 174.2 L673.2 174.3 L674.0 174.4 L674.9 174.4 L675.8 174.5 L676.6 174.5 L677.5 174.6 L678.4 174.6 L679.2 174.7 L680.1 174.7 L681.0 174.7 L681.8 174.8 L682.7 174.8 L683.5 174.8 L684.4 174.8 L685.3 174.8 L686.1 174.8 L687.0 174.8 L687.9 174.8 L688.7 174.8 L689.6 174.8" fill="none" stroke="#e0202a" stroke-width="1.1" stroke-linejoin="round"/>
<path d="M465.6 133.3 L466.5 133.9 L467.3 134.5 L468.2 135.0 L469.1 135.5 L469.9 136.0 L470.8 136.5 L471.7 137.0 L472.5 137.7 L473.4 138.4 L474.2 138.9 L475.1 138.8 L476.0 138.9 L476.8 139.5 L477.7 139.9 L478.6 139.5 L479.4 139.1 L480.3 139.1 L481.2 138.6 L482.0 137.9 L482.9 137.5 L483.8 137.1 L484.6 136.4 L485.5 135.7 L486.4 134.4 L487.2 133.3 L488.1 132.5 L489.0 131.6 L489.8 130.8 L490.7 129.6 L491.5 128.2 L492.4 127.4 L493.3 127.2 L494.1 126.8 L495.0 125.4 L495.9 123.8 L496.7 122.7 L497.6 121.5 L498.5 120.0 L499.3 119.0 L500.2 117.4 L501.1 115.1 L501.9 113.3 L502.8 112.2 L503.7 110.7 L504.5 109.0 L505.4 107.6 L506.2 106.0 L507.1 104.2 L508.0 102.8 L508.8 100.8 L509.7 98.9 L510.6 97.4 L511.4 95.2 L512.3 93.4 L513.2 92.2 L514.0 90.5 L514.9 89.1 L515.8 87.9 L516.6 86.3 L517.5 84.3 L518.4 82.4 L519.2 81.2 L520.1 79.8 L521.0 77.8 L521.8 75.5 L522.7 73.3 L523.5 71.8 L524.4 70.4 L525.3 68.6 L526.1 66.8 L527.0 64.9 L527.9 62.7 L528.7 60.6 L529.6 58.5 L530.5 56.1 L531.3 54.2 L532.2 52.9 L533.1 51.8 L533.9 50.3 L534.8 48.7 L535.7 47.2 L536.5 45.8 L537.4 44.3 L538.2 42.9 L539.1 41.6 L540.0 40.2 L540.8 39.1 L541.7 38.3 L542.6 37.3 L543.4 36.5 L544.3 35.5 L545.2 34.5 L546.0 33.1 L546.9 32.0 L547.8 32.4 L548.6 32.2 L549.5 31.0 L550.4 30.6 L551.2 30.4 L552.1 29.9 L553.0 29.4 L553.8 28.7 L554.7 28.1 L555.5 27.9 L556.4 27.5 L557.3 27.0 L558.1 26.9 L559.0 27.1 L559.9 27.3 L560.7 27.5 L561.6 27.1 L562.5 26.6 L563.3 26.7 L564.2 26.9 L565.1 26.8 L565.9 26.7 L566.8 26.8 L567.7 27.3 L568.5 28.2 L569.4 28.7 L570.2 29.0 L571.1 29.4 L572.0 30.2 L572.8 30.9 L573.7 31.3 L574.6 31.9 L575.4 32.8 L576.3 33.7 L577.2 34.7 L578.0 35.7 L578.9 36.6 L579.8 37.8 L580.6 39.3 L581.5 40.6 L582.4 41.5 L583.2 42.7 L584.1 44.0 L585.0 45.2 L585.8 46.3 L586.7 47.8 L587.5 49.1 L588.4 50.0 L589.3 51.1 L590.1 52.3 L591.0 53.2 L591.9 54.4 L592.7 55.9 L593.6 57.0 L594.5 58.4 L595.3 60.2 L596.2 61.8 L597.1 62.6 L597.9 63.1 L598.8 64.3 L599.7 65.6 L600.5 66.3 L601.4 67.2 L602.2 68.4 L603.1 69.5 L604.0 70.2 L604.8 71.4 L605.7 73.6 L606.6 75.4 L607.4 76.4 L608.3 77.4 L609.2 78.5 L610.0 79.8 L610.9 81.0 L611.8 81.6 L612.6 82.1 L613.5 82.9 L614.4 84.0 L615.2 85.2 L616.1 86.5 L617.0 87.9 L617.8 88.5 L618.7 88.7 L619.5 89.2 L620.4 90.6 L621.3 91.6 L622.1 92.0 L623.0 93.0 L623.9 94.0 L624.7 95.3 L625.6 96.2 L626.5 96.1 L627.3 96.2 L628.2 96.9 L629.1 97.5 L629.9 97.8 L630.8 98.1 L631.7 99.0 L632.5 100.2 L633.4 101.0 L634.2 101.8 L635.1 102.7 L636.0 103.1 L636.8 103.8 L637.7 105.3 L638.6 106.1 L639.4 106.4 L640.3 107.5 L641.2 108.8 L642.0 110.4 L642.9 112.3 L643.8 113.9 L644.6 115.5 L645.5 117.6 L646.4 120.6 L647.2 123.7 L648.1 126.1 L649.0 128.4 L649.8 131.1 L650.7 133.8 L651.5 136.6 L652.4 139.7 L653.3 142.9 L654.1 146.0 L655.0 149.0 L655.9 152.2 L656.7 155.1 L657.6 157.6 L658.5 159.7 L659.3 161.9 L660.2 164.1 L661.1 165.8 L661.9 167.2 L662.8 168.5 L663.7 169.7 L664.5 170.7 L665.4 171.6 L666.2 172.2 L667.1 172.8 L668.0 173.2 L668.8 173.5 L669.7 173.7 L670.6 173.9 L671.4 174.0 L672.3 174.2 L673.2 174.3 L674.0 174.3 L674.9 174.4 L675.8 174.5 L676.6 174.5 L677.5 174.6 L678.4 174.6 L679.2 174.7 L680.1 174.7 L681.0 174.8 L681.8 174.8 L682.7 174.8 L683.5 174.8 L684.4 174.8 L685.3 174.8 L686.1 174.8 L687.0 174.8 L687.9 174.8 L688.7 174.8 L689.6 174.8" fill="none" stroke="#141414" stroke-width="1.25" stroke-linejoin="round"/>
<rect x="465.6" y="12.2" width="224.0" height="163.10000000000002" fill="none" stroke="#141414" stroke-width="1.2"/>
<path d="M462.1 175.3 H465.6" stroke="#141414" stroke-width="1.1"/>
<text x="459.6" y="178.7" font-family="Liberation Sans, Arial, sans-serif" font-size="9.9" font-weight="bold" fill="#141414" stroke="#141414" stroke-width="0.2" text-anchor="end">0.0</text>
<path d="M462.1 145.6 H465.6" stroke="#141414" stroke-width="1.1"/>
<text x="459.6" y="149.0" font-family="Liberation Sans, Arial, sans-serif" font-size="9.9" font-weight="bold" fill="#141414" stroke="#141414" stroke-width="0.2" text-anchor="end">0.2</text>
<path d="M462.1 115.8 H465.6" stroke="#141414" stroke-width="1.1"/>
<text x="459.6" y="119.2" font-family="Liberation Sans, Arial, sans-serif" font-size="9.9" font-weight="bold" fill="#141414" stroke="#141414" stroke-width="0.2" text-anchor="end">0.4</text>
<path d="M462.1 86.1 H465.6" stroke="#141414" stroke-width="1.1"/>
<text x="459.6" y="89.5" font-family="Liberation Sans, Arial, sans-serif" font-size="9.9" font-weight="bold" fill="#141414" stroke="#141414" stroke-width="0.2" text-anchor="end">0.6</text>
<path d="M462.1 56.3 H465.6" stroke="#141414" stroke-width="1.1"/>
<text x="459.6" y="59.7" font-family="Liberation Sans, Arial, sans-serif" font-size="9.9" font-weight="bold" fill="#141414" stroke="#141414" stroke-width="0.2" text-anchor="end">0.8</text>
<path d="M462.1 26.6 H465.6" stroke="#141414" stroke-width="1.1"/>
<text x="459.6" y="30.0" font-family="Liberation Sans, Arial, sans-serif" font-size="9.9" font-weight="bold" fill="#141414" stroke="#141414" stroke-width="0.2" text-anchor="end">1.0</text>
<path d="M465.6 175.3 V178.8" stroke="#141414" stroke-width="1.1"/>
<text x="464.3" y="188.7" font-family="Liberation Sans, Arial, sans-serif" font-size="9.7" font-weight="bold" fill="#141414" stroke="#141414" stroke-width="0.2" text-anchor="middle">500</text>
<path d="M521.6 175.3 V178.8" stroke="#141414" stroke-width="1.1"/>
<text x="520.3" y="188.7" font-family="Liberation Sans, Arial, sans-serif" font-size="9.7" font-weight="bold" fill="#141414" stroke="#141414" stroke-width="0.2" text-anchor="middle">600</text>
<path d="M577.6 175.3 V178.8" stroke="#141414" stroke-width="1.1"/>
<text x="576.3" y="188.7" font-family="Liberation Sans, Arial, sans-serif" font-size="9.7" font-weight="bold" fill="#141414" stroke="#141414" stroke-width="0.2" text-anchor="middle">700</text>
<path d="M633.6 175.3 V178.8" stroke="#141414" stroke-width="1.1"/>
<text x="632.3" y="188.7" font-family="Liberation Sans, Arial, sans-serif" font-size="9.7" font-weight="bold" fill="#141414" stroke="#141414" stroke-width="0.2" text-anchor="middle">800</text>
<path d="M689.6 175.3 V178.8" stroke="#141414" stroke-width="1.1"/>
<text x="688.3" y="188.7" font-family="Liberation Sans, Arial, sans-serif" font-size="9.7" font-weight="bold" fill="#141414" stroke="#141414" stroke-width="0.2" text-anchor="middle">900</text>
<text x="579.8" y="200.5" font-family="Liberation Sans, Arial, sans-serif" font-size="11.9" font-weight="bold" fill="#141414" text-anchor="middle">Wavelength (nm)</text>
<text transform="translate(432.2 99.6) rotate(-90)" font-family="Liberation Sans, Arial, sans-serif" font-size="12" font-weight="bold" fill="#141414" text-anchor="middle">Intensity (a.u.)</text>
<text x="648.6" y="39.5" font-family="Liberation Sans, Arial, sans-serif" font-size="10.4" font-weight="bold" fill="#141414" text-anchor="middle">0</text>
<text x="620.8" y="65.5" font-family="Liberation Sans, Arial, sans-serif" font-size="10.6" font-weight="bold" fill="#141414">Hg<tspan font-size="8.2" dy="-3.8">2+</tspan></text>
<text x="639.6" y="93" font-family="Liberation Sans, Arial, sans-serif" font-size="11.3" font-weight="bold" fill="#141414" textLength="36.6" lengthAdjust="spacingAndGlyphs">0.1 μM</text>
<path d="M648.8 44 V79" stroke="#141414" stroke-width="1"/>
<path d="M646.6 76.5 L648.8 82 L651 76.5 Z" fill="#141414"/>
</g>
<g id="pc">
<text x="13.8" y="202" font-family="Liberation Sans, Arial, sans-serif" font-size="18.5" fill="#222">(c)</text>
<clipPath id="cclip"><rect x="45.3" y="218.4" width="175.89999999999998" height="141.99999999999997"/></clipPath>
<g clip-path="url(#cclip)">
<path d="M45.3 -56.1 L45.9 -47.4 L46.5 -36.0 L47.1 -22.7 L47.7 -8.6 L48.2 5.6 L48.8 19.9 L49.4 34.1 L50.0 48.4 L50.6 62.6 L51.2 76.9 L51.8 91.1 L52.4 105.3 L52.9 119.0 L53.5 131.8 L54.1 143.3 L54.7 153.3 L55.3 161.9 L55.9 169.6 L56.5 177.0 L57.1 184.3 L57.7 191.6 L58.2 198.8 L58.8 205.6 L59.4 211.7 L60.0 216.9 L60.6 221.0 L61.2 224.3 L61.8 227.2 L62.4 229.8 L62.9 232.5 L63.5 235.1 L64.1 237.6 L64.7 239.9 L65.3 242.0 L65.9 243.9 L66.5 245.5 L67.1 247.0 L67.7 248.5 L68.2 250.0 L68.8 251.5 L69.4 252.9 L70.0 254.4 L70.6 255.8 L71.2 257.2 L71.8 258.3 L72.4 259.4 L72.9 260.3 L73.5 261.1 L74.1 261.9 L74.7 262.7 L75.3 263.5 L75.9 264.3 L76.5 265.1 L77.1 265.9 L77.7 266.7 L78.2 267.5 L78.8 268.2 L79.4 269.0 L80.0 269.7 L80.6 270.3 L81.2 270.9 L81.8 271.4 L82.4 271.8 L83.0 272.2 L83.5 272.6 L84.1 273.0 L84.7 273.4 L85.3 273.8 L85.9 274.3 L86.5 274.7 L87.1 275.1 L87.7 275.5 L88.2 275.9 L88.8 276.3 L89.4 276.6 L90.0 276.9 L90.6 277.3 L91.2 277.5 L91.8 277.8 L92.4 278.1 L93.0 278.4 L93.5 278.7 L94.1 279.0 L94.7 279.3 L95.3 279.5 L95.9 279.8 L96.5 280.1 L97.1 280.4 L97.7 280.6 L98.2 280.8 L98.8 281.0 L99.4 281.1 L100.0 281.2 L100.6 281.3 L101.2 281.4 L101.8 281.5 L102.4 281.6 L103.0 281.7 L103.5 281.8 L104.1 281.9 L104.7 282.0 L105.3 282.0 L105.9 282.1 L106.5 282.1 L107.1 282.1 L107.7 282.0 L108.2 281.9 L108.8 281.8 L109.4 281.6 L110.0 281.5 L110.6 281.3 L111.2 281.1 L111.8 281.0 L112.4 280.8 L113.0 280.7 L113.5 280.5 L114.1 280.3 L114.7 280.2 L115.3 279.9 L115.9 279.6 L116.5 279.3 L117.1 278.9 L117.7 278.5 L118.2 278.1 L118.8 277.7 L119.4 277.3 L120.0 276.9 L120.6 276.5 L121.2 276.1 L121.8 275.7 L122.4 275.2 L123.0 274.8 L123.5 274.4 L124.1 273.9 L124.7 273.4 L125.3 272.9 L125.9 272.3 L126.5 271.7 L127.1 271.2 L127.7 270.6 L128.2 270.0 L128.8 269.4 L129.4 268.8 L130.0 268.2 L130.6 267.7 L131.2 267.3 L131.8 266.9 L132.4 266.6 L133.0 266.3 L133.5 266.1 L134.1 265.9 L134.7 265.7 L135.3 265.7 L135.9 265.8 L136.5 266.1 L137.1 266.5 L137.7 266.9 L138.3 267.4 L138.8 267.9 L139.4 268.4 L140.0 269.1 L140.6 269.9 L141.2 270.7 L141.8 271.6 L142.4 272.6 L143.0 273.5 L143.5 274.4 L144.1 275.3 L144.7 276.3 L145.3 277.2 L145.9 278.1 L146.5 279.0 L147.1 279.8 L147.7 280.7 L148.3 281.5 L148.8 282.3 L149.4 283.2 L150.0 284.0 L150.6 284.8 L151.2 285.6 L151.8 286.5 L152.4 287.3 L153.0 288.1 L153.5 288.9 L154.1 289.7 L154.7 290.6 L155.3 291.3 L155.9 292.1 L156.5 292.9 L157.1 293.7 L157.7 294.4 L158.3 295.2 L158.8 295.9 L159.4 296.7 L160.0 297.5 L160.6 298.2 L161.2 299.0 L161.8 299.7 L162.4 300.5 L163.0 301.3 L163.5 302.0 L164.1 302.8 L164.7 303.5 L165.3 304.3 L165.9 305.0 L166.5 305.7 L167.1 306.4 L167.7 307.0 L168.3 307.7 L168.8 308.3 L169.4 308.9 L170.0 309.6 L170.6 310.2 L171.2 310.8 L171.8 311.5 L172.4 312.1 L173.0 312.7 L173.5 313.4 L174.1 314.0 L174.7 314.6 L175.3 315.3 L175.9 315.9 L176.5 316.5 L177.1 317.1 L177.7 317.6 L178.3 318.2 L178.8 318.6 L179.4 319.1 L180.0 319.6 L180.6 320.1 L181.2 320.6 L181.8 321.1 L182.4 321.5 L183.0 322.0 L183.5 322.5 L184.1 323.0 L184.7 323.5 L185.3 323.9 L185.9 324.4 L186.5 324.9 L187.1 325.4 L187.7 325.8 L188.3 326.3 L188.8 326.7 L189.4 327.0 L190.0 327.4 L190.6 327.8 L191.2 328.1 L191.8 328.5 L192.4 328.8 L193.0 329.2 L193.6 329.5 L194.1 329.9 L194.7 330.2 L195.3 330.6 L195.9 331.0 L196.5 331.3 L197.1 331.7 L197.7 332.0 L198.3 332.4 L198.8 332.7 L199.4 333.0 L200.0 333.3 L200.6 333.5 L201.2 333.8 L201.8 334.1 L202.4 334.3 L203.0 334.6 L203.6 334.8 L204.1 335.1 L204.7 335.3 L205.3 335.6 L205.9 335.8 L206.5 336.1 L207.1 336.3 L207.7 336.6 L208.3 336.8 L208.8 337.1 L209.4 337.3 L210.0 337.6 L210.6 337.9 L211.2 338.1 L211.8 338.3 L212.4 338.6 L213.0 338.8 L213.6 339.0 L214.1 339.2 L214.7 339.4 L215.3 339.6 L215.9 339.8 L216.5 339.9 L217.1 340.1 L217.7 340.3 L218.3 340.5 L218.8 340.7 L219.4 340.9 L220.0 341.1 L220.6 341.2 L221.2 341.3" fill="none" stroke="#e8766a" stroke-width="0.9"/>
<path d="M45.3 76.2 L45.9 84.7 L46.5 95.9 L47.1 108.9 L47.7 122.7 L48.2 136.5 L48.8 150.0 L49.4 162.9 L50.0 175.1 L50.6 186.6 L51.2 197.3 L51.8 207.3 L52.4 216.4 L52.9 224.5 L53.5 231.3 L54.1 236.7 L54.7 240.9 L55.3 244.2 L55.9 246.9 L56.5 249.2 L57.1 251.5 L57.7 253.5 L58.2 255.4 L58.8 257.1 L59.4 258.7 L60.0 260.3 L60.6 261.7 L61.2 262.9 L61.8 263.9 L62.4 264.7 L62.9 265.5 L63.5 266.1 L64.1 266.8 L64.7 267.5 L65.3 268.2 L65.9 268.8 L66.5 269.5 L67.1 270.1 L67.7 270.6 L68.2 271.0 L68.8 271.5 L69.4 271.8 L70.0 272.2 L70.6 272.6 L71.2 273.0 L71.8 273.4 L72.4 273.7 L72.9 274.1 L73.5 274.5 L74.1 274.9 L74.7 275.3 L75.3 275.6 L75.9 276.0 L76.5 276.3 L77.1 276.6 L77.7 276.8 L78.2 277.1 L78.8 277.3 L79.4 277.6 L80.0 277.8 L80.6 278.1 L81.2 278.3 L81.8 278.6 L82.4 278.9 L83.0 279.1 L83.5 279.4 L84.1 279.6 L84.7 279.9 L85.3 280.1 L85.9 280.4 L86.5 280.6 L87.1 280.9 L87.7 281.1 L88.2 281.4 L88.8 281.6 L89.4 281.8 L90.0 282.1 L90.6 282.3 L91.2 282.4 L91.8 282.6 L92.4 282.8 L93.0 283.0 L93.5 283.2 L94.1 283.4 L94.7 283.6 L95.3 283.8 L95.9 284.0 L96.5 284.2 L97.1 284.3 L97.7 284.5 L98.2 284.6 L98.8 284.8 L99.4 284.9 L100.0 285.0 L100.6 285.1 L101.2 285.2 L101.8 285.3 L102.4 285.4 L103.0 285.5 L103.5 285.6 L104.1 285.6 L104.7 285.7 L105.3 285.8 L105.9 285.9 L106.5 286.0 L107.1 286.0 L107.7 285.9 L108.2 285.9 L108.8 285.8 L109.4 285.7 L110.0 285.6 L110.6 285.5 L111.2 285.4 L111.8 285.3 L112.4 285.2 L113.0 285.1 L113.5 285.0 L114.1 284.9 L114.7 284.8 L115.3 284.6 L115.9 284.4 L116.5 284.2 L117.1 283.8 L117.7 283.5 L118.2 283.2 L118.8 282.8 L119.4 282.5 L120.0 282.2 L120.6 281.8 L121.2 281.5 L121.8 281.0 L122.4 280.5 L123.0 279.9 L123.5 279.3 L124.1 278.6 L124.7 277.9 L125.3 277.2 L125.9 276.4 L126.5 275.7 L127.1 275.0 L127.7 274.2 L128.2 273.4 L128.8 272.5 L129.4 271.4 L130.0 270.3 L130.6 269.1 L131.2 267.8 L131.8 266.5 L132.4 265.2 L133.0 263.8 L133.5 262.3 L134.1 260.7 L134.7 259.1 L135.3 257.4 L135.9 255.7 L136.5 254.0 L137.1 252.4 L137.7 250.8 L138.3 249.4 L138.8 248.1 L139.4 246.8 L140.0 245.5 L140.6 244.2 L141.2 243.1 L141.8 242.0 L142.4 241.1 L143.0 240.4 L143.5 239.8 L144.1 239.3 L144.7 239.0 L145.3 239.0 L145.9 239.1 L146.5 239.4 L147.1 239.9 L147.7 240.4 L148.3 241.1 L148.8 242.0 L149.4 243.0 L150.0 244.1 L150.6 245.3 L151.2 246.6 L151.8 247.9 L152.4 249.2 L153.0 250.6 L153.5 252.0 L154.1 253.5 L154.7 255.1 L155.3 256.6 L155.9 258.2 L156.5 259.7 L157.1 261.3 L157.7 262.9 L158.3 264.4 L158.8 266.0 L159.4 267.5 L160.0 269.0 L160.6 270.5 L161.2 272.0 L161.8 273.5 L162.4 275.0 L163.0 276.4 L163.5 277.9 L164.1 279.4 L164.7 280.9 L165.3 282.3 L165.9 283.7 L166.5 285.1 L167.1 286.5 L167.7 287.7 L168.3 289.0 L168.8 290.3 L169.4 291.5 L170.0 292.8 L170.6 294.0 L171.2 295.2 L171.8 296.3 L172.4 297.4 L173.0 298.4 L173.5 299.5 L174.1 300.5 L174.7 301.5 L175.3 302.6 L175.9 303.6 L176.5 304.6 L177.1 305.6 L177.7 306.5 L178.3 307.4 L178.8 308.2 L179.4 309.1 L180.0 309.9 L180.6 310.7 L181.2 311.5 L181.8 312.3 L182.4 313.2 L183.0 314.0 L183.5 314.8 L184.1 315.6 L184.7 316.4 L185.3 317.2 L185.9 317.9 L186.5 318.6 L187.1 319.2 L187.7 319.8 L188.3 320.3 L188.8 320.9 L189.4 321.4 L190.0 321.9 L190.6 322.5 L191.2 323.0 L191.8 323.5 L192.4 324.1 L193.0 324.6 L193.6 325.2 L194.1 325.7 L194.7 326.2 L195.3 326.6 L195.9 327.1 L196.5 327.5 L197.1 327.9 L197.7 328.4 L198.3 328.8 L198.8 329.2 L199.4 329.6 L200.0 330.1 L200.6 330.5 L201.2 330.9 L201.8 331.3 L202.4 331.6 L203.0 332.0 L203.6 332.3 L204.1 332.7 L204.7 333.1 L205.3 333.4 L205.9 333.8 L206.5 334.1 L207.1 334.5 L207.7 334.8 L208.3 335.2 L208.8 335.5 L209.4 335.9 L210.0 336.2 L210.6 336.6 L211.2 336.9 L211.8 337.3 L212.4 337.6 L213.0 337.9 L213.6 338.2 L214.1 338.4 L214.7 338.7 L215.3 338.9 L215.9 339.2 L216.5 339.4 L217.1 339.7 L217.7 339.9 L218.3 340.2 L218.8 340.5 L219.4 340.7 L220.0 340.9 L220.6 341.1 L221.2 341.3" fill="none" stroke="#e87a5a" stroke-width="2.5" opacity="0.7"/>
<path d="M45.3 76.2 L45.9 84.7 L46.5 95.9 L47.1 108.9 L47.7 122.7 L48.2 136.5 L48.8 150.0 L49.4 162.9 L50.0 175.1 L50.6 186.6 L51.2 197.3 L51.8 207.3 L52.4 216.4 L52.9 224.5 L53.5 231.3 L54.1 236.7 L54.7 240.9 L55.3 244.2 L55.9 246.9 L56.5 249.2 L57.1 251.5 L57.7 253.5 L58.2 255.4 L58.8 257.1 L59.4 258.7 L60.0 260.3 L60.6 261.7 L61.2 262.9 L61.8 263.9 L62.4 264.7 L62.9 265.5 L63.5 266.1 L64.1 266.8 L64.7 267.5 L65.3 268.2 L65.9 268.8 L66.5 269.5 L67.1 270.1 L67.7 270.6 L68.2 271.0 L68.8 271.5 L69.4 271.8 L70.0 272.2 L70.6 272.6 L71.2 273.0 L71.8 273.4 L72.4 273.7 L72.9 274.1 L73.5 274.5 L74.1 274.9 L74.7 275.3 L75.3 275.6 L75.9 276.0 L76.5 276.3 L77.1 276.6 L77.7 276.8 L78.2 277.1 L78.8 277.3 L79.4 277.6 L80.0 277.8 L80.6 278.1 L81.2 278.3 L81.8 278.6 L82.4 278.9 L83.0 279.1 L83.5 279.4 L84.1 279.6 L84.7 279.9 L85.3 280.1 L85.9 280.4 L86.5 280.6 L87.1 280.9 L87.7 281.1 L88.2 281.4 L88.8 281.6 L89.4 281.8 L90.0 282.1 L90.6 282.3 L91.2 282.4 L91.8 282.6 L92.4 282.8 L93.0 283.0 L93.5 283.2 L94.1 283.4 L94.7 283.6 L95.3 283.8 L95.9 284.0 L96.5 284.2 L97.1 284.3 L97.7 284.5 L98.2 284.6 L98.8 284.8 L99.4 284.9 L100.0 285.0 L100.6 285.1 L101.2 285.2 L101.8 285.3 L102.4 285.4 L103.0 285.5 L103.5 285.6 L104.1 285.6 L104.7 285.7 L105.3 285.8 L105.9 285.9 L106.5 286.0 L107.1 286.0 L107.7 285.9 L108.2 285.9 L108.8 285.8 L109.4 285.7 L110.0 285.6 L110.6 285.5 L111.2 285.4 L111.8 285.3 L112.4 285.2 L113.0 285.1 L113.5 285.0 L114.1 284.9 L114.7 284.8 L115.3 284.6 L115.9 284.4 L116.5 284.2 L117.1 283.8 L117.7 283.5 L118.2 283.2 L118.8 282.8 L119.4 282.5 L120.0 282.2 L120.6 281.8 L121.2 281.5 L121.8 281.0 L122.4 280.5 L123.0 279.9 L123.5 279.3 L124.1 278.6 L124.7 277.9 L125.3 277.2 L125.9 276.4 L126.5 275.7 L127.1 275.0 L127.7 274.2 L128.2 273.4 L128.8 272.5 L129.4 271.4 L130.0 270.3 L130.6 269.1 L131.2 267.8 L131.8 266.5 L132.4 265.2 L133.0 263.8 L133.5 262.3 L134.1 260.7 L134.7 259.1 L135.3 257.4 L135.9 255.7 L136.5 254.0 L137.1 252.4 L137.7 250.8 L138.3 249.4 L138.8 248.1 L139.4 246.8 L140.0 245.5 L140.6 244.2 L141.2 243.1 L141.8 242.0 L142.4 241.1 L143.0 240.4 L143.5 239.8 L144.1 239.3 L144.7 239.0 L145.3 239.0 L145.9 239.1 L146.5 239.4 L147.1 239.9 L147.7 240.4 L148.3 241.1 L148.8 242.0 L149.4 243.0 L150.0 244.1 L150.6 245.3 L151.2 246.6 L151.8 247.9 L152.4 249.2 L153.0 250.6 L153.5 252.0 L154.1 253.5 L154.7 255.1 L155.3 256.6 L155.9 258.2 L156.5 259.7 L157.1 261.3 L157.7 262.9 L158.3 264.4 L158.8 266.0 L159.4 267.5 L160.0 269.0 L160.6 270.5 L161.2 272.0 L161.8 273.5 L162.4 275.0 L163.0 276.4 L163.5 277.9 L164.1 279.4 L164.7 280.9 L165.3 282.3 L165.9 283.7 L166.5 285.1 L167.1 286.5 L167.7 287.7 L168.3 289.0 L168.8 290.3 L169.4 291.5 L170.0 292.8 L170.6 294.0 L171.2 295.2 L171.8 296.3 L172.4 297.4 L173.0 298.4 L173.5 299.5 L174.1 300.5 L174.7 301.5 L175.3 302.6 L175.9 303.6 L176.5 304.6 L177.1 305.6 L177.7 306.5 L178.3 307.4 L178.8 308.2 L179.4 309.1 L180.0 309.9 L180.6 310.7 L181.2 311.5 L181.8 312.3 L182.4 313.2 L183.0 314.0 L183.5 314.8 L184.1 315.6 L184.7 316.4 L185.3 317.2 L185.9 317.9 L186.5 318.6 L187.1 319.2 L187.7 319.8 L188.3 320.3 L188.8 320.9 L189.4 321.4 L190.0 321.9 L190.6 322.5 L191.2 323.0 L191.8 323.5 L192.4 324.1 L193.0 324.6 L193.6 325.2 L194.1 325.7 L194.7 326.2 L195.3 326.6 L195.9 327.1 L196.5 327.5 L197.1 327.9 L197.7 328.4 L198.3 328.8 L198.8 329.2 L199.4 329.6 L200.0 330.1 L200.6 330.5 L201.2 330.9 L201.8 331.3 L202.4 331.6 L203.0 332.0 L203.6 332.3 L204.1 332.7 L204.7 333.1 L205.3 333.4 L205.9 333.8 L206.5 334.1 L207.1 334.5 L207.7 334.8 L208.3 335.2 L208.8 335.5 L209.4 335.9 L210.0 336.2 L210.6 336.6 L211.2 336.9 L211.8 337.3 L212.4 337.6 L213.0 337.9 L213.6 338.2 L214.1 338.4 L214.7 338.7 L215.3 338.9 L215.9 339.2 L216.5 339.4 L217.1 339.7 L217.7 339.9 L218.3 340.2 L218.8 340.5 L219.4 340.7 L220.0 340.9 L220.6 341.1 L221.2 341.3" fill="none" stroke="#5a5872" stroke-width="1.8"/>
<path d="M45.3 77.2 L45.9 85.7 L46.5 96.8 L47.1 109.8 L47.7 123.6 L48.2 137.4 L48.8 150.9 L49.4 163.9 L50.0 176.1 L50.6 187.6 L51.2 198.3 L51.8 208.2 L52.4 217.4 L52.9 225.4 L53.5 232.2 L54.1 237.7 L54.7 241.9 L55.3 245.2 L55.9 247.8 L56.5 250.2 L57.1 252.4 L57.7 254.5 L58.2 256.3 L58.8 258.1 L59.4 259.7 L60.0 261.2 L60.6 262.6 L61.2 263.8 L61.8 264.8 L62.4 265.7 L62.9 266.4 L63.5 267.1 L64.1 267.8 L64.7 268.4 L65.3 269.1 L65.9 269.8 L66.5 270.4 L67.1 271.0 L67.7 271.5 L68.2 272.0 L68.8 272.4 L69.4 272.8 L70.0 273.2 L70.6 273.6 L71.2 273.9 L71.8 274.3 L72.4 274.7 L72.9 275.1 L73.5 275.5 L74.1 275.8 L74.7 276.2 L75.3 276.6 L75.9 276.9 L76.5 277.2 L77.1 277.5 L77.7 277.8 L78.2 278.0 L78.8 278.3 L79.4 278.5 L80.0 278.8 L80.6 279.0 L81.2 279.3 L81.8 279.5 L82.4 279.8 L83.0 280.1 L83.5 280.3 L84.1 280.6 L84.7 280.8 L85.3 281.1 L85.9 281.3 L86.5 281.6 L87.1 281.8 L87.7 282.1 L88.2 282.3 L88.8 282.6 L89.4 282.8 L90.0 283.0 L90.6 283.2 L91.2 283.4 L91.8 283.6 L92.4 283.8 L93.0 284.0 L93.5 284.2 L94.1 284.3 L94.7 284.5 L95.3 284.7 L95.9 284.9 L96.5 285.1 L97.1 285.3 L97.7 285.4 L98.2 285.6 L98.8 285.7 L99.4 285.8 L100.0 285.9 L100.6 286.0 L101.2 286.1 L101.8 286.2 L102.4 286.3 L103.0 286.4 L103.5 286.5 L104.1 286.6 L104.7 286.7 L105.3 286.8 L105.9 286.9 L106.5 286.9 L107.1 286.9 L107.7 286.9 L108.2 286.8 L108.8 286.7 L109.4 286.6 L110.0 286.5 L110.6 286.4 L111.2 286.3 L111.8 286.2 L112.4 286.1 L113.0 286.1 L113.5 286.0 L114.1 285.9 L114.7 285.7 L115.3 285.6 L115.9 285.4 L116.5 285.1 L117.1 284.8 L117.7 284.5 L118.2 284.1 L118.8 283.8 L119.4 283.5 L120.0 283.1 L120.6 282.8 L121.2 282.4 L121.8 282.0 L122.4 281.5 L123.0 280.9 L123.5 280.2 L124.1 279.5 L124.7 278.8 L125.3 278.1 L125.9 277.4 L126.5 276.7 L127.1 275.9 L127.7 275.2 L128.2 274.4 L128.8 273.4 L129.4 272.4 L130.0 271.2 L130.6 270.0 L131.2 268.7 L131.8 267.5 L132.4 266.1 L133.0 264.7 L133.5 263.3 L134.1 261.7 L134.7 260.0 L135.3 258.3 L135.9 256.6 L136.5 254.9 L137.1 253.3 L137.7 251.8 L138.3 250.4 L138.8 249.0 L139.4 247.7 L140.0 246.4 L140.6 245.2 L141.2 244.0 L141.8 243.0 L142.4 242.1 L143.0 241.3 L143.5 240.7 L144.1 240.3 L144.7 240.0 L145.3 239.9 L145.9 240.1 L146.5 240.4 L147.1 240.8 L147.7 241.4 L148.3 242.1 L148.8 242.9 L149.4 243.9 L150.0 245.1 L150.6 246.3 L151.2 247.6 L151.8 248.8 L152.4 250.2 L153.0 251.5 L153.5 253.0 L154.1 254.5 L154.7 256.0 L155.3 257.6 L155.9 259.1 L156.5 260.7 L157.1 262.3 L157.7 263.8 L158.3 265.4 L158.8 266.9 L159.4 268.5 L160.0 270.0 L160.6 271.5 L161.2 273.0 L161.8 274.4 L162.4 275.9 L163.0 277.4 L163.5 278.9 L164.1 280.3 L164.7 281.8 L165.3 283.3 L165.9 284.7 L166.5 286.1 L167.1 287.4 L167.7 288.7 L168.3 290.0 L168.8 291.2 L169.4 292.5 L170.0 293.7 L170.6 295.0 L171.2 296.1 L171.8 297.2 L172.4 298.3 L173.0 299.4 L173.5 300.4 L174.1 301.5 L174.7 302.5 L175.3 303.5 L175.9 304.6 L176.5 305.6 L177.1 306.5 L177.7 307.5 L178.3 308.3 L178.8 309.2 L179.4 310.0 L180.0 310.8 L180.6 311.6 L181.2 312.5 L181.8 313.3 L182.4 314.1 L183.0 314.9 L183.5 315.8 L184.1 316.6 L184.7 317.4 L185.3 318.2 L185.9 318.9 L186.5 319.6 L187.1 320.2 L187.7 320.7 L188.3 321.3 L188.8 321.8 L189.4 322.3 L190.0 322.9 L190.6 323.4 L191.2 324.0 L191.8 324.5 L192.4 325.0 L193.0 325.6 L193.6 326.1 L194.1 326.6 L194.7 327.1 L195.3 327.6 L195.9 328.0 L196.5 328.5 L197.1 328.9 L197.7 329.3 L198.3 329.7 L198.8 330.2 L199.4 330.6 L200.0 331.0 L200.6 331.4 L201.2 331.8 L201.8 332.2 L202.4 332.6 L203.0 332.9 L203.6 333.3 L204.1 333.6 L204.7 334.0 L205.3 334.4 L205.9 334.7 L206.5 335.1 L207.1 335.4 L207.7 335.8 L208.3 336.1 L208.8 336.5 L209.4 336.8 L210.0 337.2 L210.6 337.5 L211.2 337.9 L211.8 338.2 L212.4 338.5 L213.0 338.8 L213.6 339.1 L214.1 339.4 L214.7 339.6 L215.3 339.9 L215.9 340.1 L216.5 340.4 L217.1 340.6 L217.7 340.9 L218.3 341.1 L218.8 341.4 L219.4 341.7 L220.0 341.9 L220.6 342.1 L221.2 342.2" fill="none" stroke="#33334a" stroke-width="0.7"/>
</g>
<rect x="45.3" y="218.4" width="175.89999999999998" height="141.99999999999997" fill="none" stroke="#141428" stroke-width="1.2"/>
<path d="M41.8 360.4 H45.3" stroke="#141414" stroke-width="1.1"/>
<text x="39.8" y="363.8" font-family="Liberation Sans, Arial, sans-serif" font-size="9.7" font-weight="bold" fill="#141414" stroke="#141414" stroke-width="0.2" text-anchor="end">0.00</text>
<path d="M41.8 336.7 H45.3" stroke="#141414" stroke-width="1.1"/>
<text x="39.8" y="340.1" font-family="Liberation Sans, Arial, sans-serif" font-size="9.7" font-weight="bold" fill="#141414" stroke="#141414" stroke-width="0.2" text-anchor="end">0.05</text>
<path d="M41.8 313.1 H45.3" stroke="#141414" stroke-width="1.1"/>
<text x="39.8" y="316.5" font-family="Liberation Sans, Arial, sans-serif" font-size="9.7" font-weight="bold" fill="#141414" stroke="#141414" stroke-width="0.2" text-anchor="end">0.10</text>
<path d="M41.8 289.4 H45.3" stroke="#141414" stroke-width="1.1"/>
<text x="39.8" y="292.8" font-family="Liberation Sans, Arial, sans-serif" font-size="9.7" font-weight="bold" fill="#141414" stroke="#141414" stroke-width="0.2" text-anchor="end">0.15</text>
<path d="M41.8 265.7 H45.3" stroke="#141414" stroke-width="1.1"/>
<text x="39.8" y="269.1" font-family="Liberation Sans, Arial, sans-serif" font-size="9.7" font-weight="bold" fill="#141414" stroke="#141414" stroke-width="0.2" text-anchor="end">0.20</text>
<path d="M41.8 242.1 H45.3" stroke="#141414" stroke-width="1.1"/>
<text x="39.8" y="245.5" font-family="Liberation Sans, Arial, sans-serif" font-size="9.7" font-weight="bold" fill="#141414" stroke="#141414" stroke-width="0.2" text-anchor="end">0.25</text>
<path d="M41.8 218.4 H45.3" stroke="#141414" stroke-width="1.1"/>
<text x="39.8" y="221.8" font-family="Liberation Sans, Arial, sans-serif" font-size="9.7" font-weight="bold" fill="#141414" stroke="#141414" stroke-width="0.2" text-anchor="end">0.30</text>
<path d="M45.3 360.4 V363.9" stroke="#141414" stroke-width="1.1"/>
<text x="44.4" y="373.5" font-family="Liberation Sans, Arial, sans-serif" font-size="9.9" font-weight="bold" fill="#141414" stroke="#141414" stroke-width="0.2" text-anchor="middle">300</text>
<path d="M89.3 360.4 V363.9" stroke="#141414" stroke-width="1.1"/>
<text x="88.4" y="373.5" font-family="Liberation Sans, Arial, sans-serif" font-size="9.9" font-weight="bold" fill="#141414" stroke="#141414" stroke-width="0.2" text-anchor="middle">400</text>
<path d="M133.2 360.4 V363.9" stroke="#141414" stroke-width="1.1"/>
<text x="132.3" y="373.5" font-family="Liberation Sans, Arial, sans-serif" font-size="9.9" font-weight="bold" fill="#141414" stroke="#141414" stroke-width="0.2" text-anchor="middle">500</text>
<path d="M177.2 360.4 V363.9" stroke="#141414" stroke-width="1.1"/>
<text x="176.3" y="373.5" font-family="Liberation Sans, Arial, sans-serif" font-size="9.9" font-weight="bold" fill="#141414" stroke="#141414" stroke-width="0.2" text-anchor="middle">600</text>
<path d="M221.2 360.4 V363.9" stroke="#141414" stroke-width="1.1"/>
<text x="220.3" y="373.5" font-family="Liberation Sans, Arial, sans-serif" font-size="9.9" font-weight="bold" fill="#141414" stroke="#141414" stroke-width="0.2" text-anchor="middle">700</text>
<text x="122.7" y="388.7" font-family="Liberation Sans, Arial, sans-serif" font-size="11.9" font-weight="bold" fill="#141414" text-anchor="middle">Wavelength (nm)</text>
<text transform="translate(9.5 292.7) rotate(-90)" font-family="Liberation Sans, Arial, sans-serif" font-size="10.4" font-weight="bold" fill="#141414" text-anchor="middle">Absorption Intensity (a.u.)</text>
<path d="M145 240 V272" stroke="#141414" stroke-width="0.9"/>
<circle cx="145" cy="274" r="1.4" fill="#141414"/>
<text x="142.2" y="295.6" font-family="Liberation Sans, Arial, sans-serif" font-size="7" font-weight="bold" fill="#141414">Hg<tspan font-size="4.6" dy="-2.6">2+</tspan></text>
<text x="47.8" y="346.2" font-family="Liberation Sans, Arial, sans-serif" font-size="6.8" font-weight="bold" fill="#141414" textLength="163.2" lengthAdjust="spacingAndGlyphs">From up to down: Al<tspan font-size="4.2" dy="-2.2">3+</tspan><tspan dy="2.2">, </tspan>Ba<tspan font-size="4.2" dy="-2.2">2+</tspan><tspan dy="2.2">, </tspan>K<tspan font-size="4.2" dy="-2.2">+</tspan><tspan dy="2.2">, </tspan>Mg<tspan font-size="4.2" dy="-2.2">2+</tspan><tspan dy="2.2">, </tspan>Na<tspan font-size="4.2" dy="-2.2">+</tspan><tspan dy="2.2">, </tspan>Ni<tspan font-size="4.2" dy="-2.2">2+</tspan><tspan dy="2.2">, </tspan></text>
<text x="47.8" y="355.8" font-family="Liberation Sans, Arial, sans-serif" font-size="6.8" font-weight="bold" fill="#141414" textLength="169" lengthAdjust="spacingAndGlyphs">Blank, Pb<tspan font-size="4.2" dy="-2.2">2+</tspan><tspan dy="2.2">, </tspan>Sr<tspan font-size="4.2" dy="-2.2">2+</tspan><tspan dy="2.2">, </tspan>Cd<tspan font-size="4.2" dy="-2.2">2+</tspan><tspan dy="2.2">, </tspan>Co<tspan font-size="4.2" dy="-2.2">2+</tspan><tspan dy="2.2">, </tspan>Cu<tspan font-size="4.2" dy="-2.2">2+</tspan><tspan dy="2.2">, </tspan>Fe<tspan font-size="4.2" dy="-2.2">3+</tspan><tspan dy="2.2">, </tspan>Ag<tspan font-size="4.2" dy="-2.2">+</tspan><tspan dy="2.2">, </tspan>Hg<tspan font-size="4.2" dy="-2.2">2+</tspan></text>
</g>
<g id="pd">
<text x="215.8" y="202" font-family="Liberation Sans, Arial, sans-serif" font-size="18" fill="#222">(d)</text>
<rect x="233" y="221" width="25.3" height="66.8" fill="#8a3947"/>
<rect x="259" y="221" width="25.3" height="66.8" fill="#934853"/>
<rect x="285.6" y="221" width="25.0" height="66.8" fill="#8c3b49"/>
<rect x="311.3" y="221" width="25.0" height="66.8" fill="#8a3846"/>
<rect x="337.6" y="221" width="24.8" height="66.8" fill="#8f4250"/>
<rect x="363.1" y="221" width="25.2" height="66.8" fill="#90414f"/>
<rect x="390" y="221" width="25.2" height="66.8" fill="#883644"/>
<rect x="416" y="221" width="25.0" height="66.8" fill="#8d3e4b"/>
<rect x="233" y="221" width="208" height="66.8" filter="url(#paper)" opacity="0.13"/>
<text x="234.6" y="232.8" font-family="Liberation Sans, Arial, sans-serif" font-size="8.5" fill="#dcc0a4">Blank<tspan font-size="5.4" dy="-2.8" dx="0.6"></tspan></text>
<text x="262.6" y="232.8" font-family="Liberation Sans, Arial, sans-serif" font-size="8.5" fill="#dcc0a4">Al<tspan font-size="5.4" dy="-2.8" dx="0.6">3+</tspan></text>
<text x="290.6" y="232.8" font-family="Liberation Sans, Arial, sans-serif" font-size="8.5" fill="#dcc0a4">Ba<tspan font-size="5.4" dy="-2.8" dx="0.6">2+</tspan></text>
<text x="316.3" y="232.8" font-family="Liberation Sans, Arial, sans-serif" font-size="8.5" fill="#dcc0a4">K<tspan font-size="5.4" dy="-2.8" dx="0.6">+</tspan></text>
<text x="342.6" y="232.8" font-family="Liberation Sans, Arial, sans-serif" font-size="8.5" fill="#dcc0a4">Mg<tspan font-size="5.4" dy="-2.8" dx="0.6">2+</tspan></text>
<text x="368.1" y="232.8" font-family="Liberation Sans, Arial, sans-serif" font-size="8.5" fill="#dcc0a4">Na<tspan font-size="5.4" dy="-2.8" dx="0.6">+</tspan></text>
<text x="395" y="232.8" font-family="Liberation Sans, Arial, sans-serif" font-size="8.5" fill="#dcc0a4">Ni<tspan font-size="5.4" dy="-2.8" dx="0.6">2+</tspan></text>
<text x="421" y="232.8" font-family="Liberation Sans, Arial, sans-serif" font-size="8.5" fill="#dcc0a4">Pb<tspan font-size="5.4" dy="-2.8" dx="0.6">2+</tspan></text>
<rect x="243.8" y="289.3" width="24.2" height="61.2" fill="#944652"/>
<rect x="270" y="289.3" width="24.3" height="61.2" fill="#883644"/>
<rect x="296.4" y="289.3" width="24.0" height="61.2" fill="#924451"/>
<rect x="322.3" y="289.3" width="24.2" height="61.2" fill="#934552"/>
<rect x="348.8" y="289.3" width="24.0" height="61.2" fill="#8b3a48"/>
<rect x="376.2" y="289.3" width="23.8" height="61.2" fill="#954753"/>
<rect x="403.7" y="289.3" width="24.3" height="61.2" fill="#9a5a3a"/>
<rect x="243.8" y="289.3" width="184.2" height="61.2" filter="url(#paper)" opacity="0.13"/>
<text x="252.0" y="299.6" font-family="Liberation Sans, Arial, sans-serif" font-size="8.5" fill="#dcc0a4">Sr<tspan font-size="5.4" dy="-2.8" dx="0.6">2+</tspan></text>
<text x="276.5" y="299.6" font-family="Liberation Sans, Arial, sans-serif" font-size="8.5" fill="#dcc0a4">Cd<tspan font-size="5.4" dy="-2.8" dx="0.6">2+</tspan></text>
<text x="302.79999999999995" y="299.6" font-family="Liberation Sans, Arial, sans-serif" font-size="8.5" fill="#dcc0a4">Co<tspan font-size="5.4" dy="-2.8" dx="0.6">3+</tspan></text>
<text x="326.8" y="299.6" font-family="Liberation Sans, Arial, sans-serif" font-size="8.5" fill="#dcc0a4">Ca<tspan font-size="5.4" dy="-2.8" dx="0.6">2+</tspan></text>
<text x="354.0" y="299.6" font-family="Liberation Sans, Arial, sans-serif" font-size="8.5" fill="#dcc0a4">Fe<tspan font-size="5.4" dy="-2.8" dx="0.6">3+</tspan></text>
<text x="381.5" y="299.6" font-family="Liberation Sans, Arial, sans-serif" font-size="8.5" fill="#dcc0a4">Ag<tspan font-size="5.4" dy="-2.8" dx="0.6">+</tspan></text>
<text x="407.8" y="299.6" font-family="Liberation Sans, Arial, sans-serif" font-size="8.5" fill="#dcc0a4">Hg<tspan font-size="5.4" dy="-2.8" dx="0.6">2+</tspan></text>
<ellipse cx="415" cy="338" rx="7" ry="6" fill="#e0c0b4" opacity="0.22" filter="url(#blur1)"/>
<path d="M243.8 338.5 H400" stroke="#b06a70" stroke-width="0.5" opacity="0.6"/>
</g>
<g id="pe">
<text x="420.8" y="202" font-family="Liberation Sans, Arial, sans-serif" font-size="18" fill="#222">(e)</text>
<rect x="462.6" y="218.2" width="32.0" height="73.5" fill="#cfc6ca"/>
<rect x="463.8" y="240" width="29.6" height="50.9" rx="3.5" fill="#a08c8c"/>
<path d="M463.40000000000003 248.3 H493.8 V284.7 Q493.8 290.09999999999997 487.6 290.09999999999997 H469.6 Q463.40000000000003 290.09999999999997 463.40000000000003 284.7 Z" fill="#822d2d"/>
<rect x="468.6" y="252" width="18.0" height="32.8" rx="4" fill="#8e3434" filter="url(#blur1)" opacity="0.8"/>
<path d="M463.40000000000003 248.3 H493.8 V284.7 Q493.8 290.09999999999997 487.6 290.09999999999997 H469.6 Q463.40000000000003 290.09999999999997 463.40000000000003 284.7 Z" fill="url(#vshade)"/>
<path d="M466.6 287.5 Q478.6 290.5 490.6 287.5" stroke="#c09494" stroke-width="1.3" fill="none" opacity="0.7"/>
<rect x="465.6" y="244.2" width="26.0" height="1.6" fill="#fff" opacity="0.35"/>
<rect x="466.40000000000003" y="220.29999999999998" width="24.8" height="20.7" rx="3" fill="#ecebed"/>
<rect x="466.40000000000003" y="220.29999999999998" width="24.8" height="20.7" rx="3" fill="url(#capshade)"/>
<rect x="525.9" y="218.2" width="35.5" height="73.5" fill="#b59f90"/>
<rect x="527.1" y="240" width="33.1" height="50.9" rx="3.5" fill="#9a8474"/>
<path d="M526.6999999999999 248.3 H560.6 V284.7 Q560.6 290.09999999999997 554.4 290.09999999999997 H532.9 Q526.6999999999999 290.09999999999997 526.6999999999999 284.7 Z" fill="#85502c"/>
<rect x="531.9" y="252" width="21.5" height="32.8" rx="4" fill="#976236" filter="url(#blur1)" opacity="0.8"/>
<path d="M526.6999999999999 248.3 H560.6 V284.7 Q560.6 290.09999999999997 554.4 290.09999999999997 H532.9 Q526.6999999999999 290.09999999999997 526.6999999999999 284.7 Z" fill="url(#vshade)"/>
<path d="M529.9 287.5 Q543.65 290.5 557.4 287.5" stroke="#a88058" stroke-width="1.3" fill="none" opacity="0.7"/>
<rect x="528.9" y="244.2" width="29.5" height="1.6" fill="#fff" opacity="0.35"/>
<rect x="529.6999999999999" y="220.29999999999998" width="28.3" height="20.7" rx="3" fill="#eeeceb"/>
<rect x="529.6999999999999" y="220.29999999999998" width="28.3" height="20.7" rx="3" fill="url(#capshade)"/>
<rect x="592.9" y="217.1" width="33.9" height="74.2" fill="#b9ad9e"/>
<rect x="594.1" y="240" width="31.5" height="50.5" rx="3.5" fill="#c4c0ba"/>
<rect x="594.4" y="249.5" width="30.9" height="39.3" rx="2.5" fill="#cbc7c2"/>
<rect x="595.9" y="240.6" width="27.9" height="4.6" fill="#8e8a84"/>
<rect x="595.9" y="248.6" width="27.9" height="1.1" fill="#9a968f"/>
<rect x="597.4" y="282" width="24.9" height="5" rx="2" fill="#8a6a68" opacity="0.85"/>
<rect x="594.4" y="249.5" width="30.9" height="39.3" rx="2.5" fill="url(#vshade)" opacity="0.6"/>
<rect x="596.6999999999999" y="219.2" width="26.7" height="21.8" rx="3" fill="#ebe9e7"/>
<rect x="596.6999999999999" y="219.2" width="26.7" height="21.8" rx="3" fill="url(#capshade)"/>
<rect x="656.8" y="217.8" width="33.9" height="74.5" fill="#d9cacd"/>
<rect x="658.0" y="240" width="31.5" height="51.5" rx="3.5" fill="#c48e8e"/>
<path d="M657.5999999999999 248.3 H689.9000000000001 V285.3 Q689.9000000000001 290.7 683.7 290.7 H663.8 Q657.5999999999999 290.7 657.5999999999999 285.3 Z" fill="#a03838"/>
<rect x="662.8" y="252" width="19.9" height="33.4" rx="4" fill="#aa3e3e" filter="url(#blur1)" opacity="0.8"/>
<path d="M657.5999999999999 248.3 H689.9000000000001 V285.3 Q689.9000000000001 290.7 683.7 290.7 H663.8 Q657.5999999999999 290.7 657.5999999999999 285.3 Z" fill="url(#vshade)"/>
<path d="M660.8 288.1 Q673.75 291.1 686.7 288.1" stroke="#c98c8c" stroke-width="1.3" fill="none" opacity="0.7"/>
<rect x="659.8" y="244.2" width="27.9" height="1.6" fill="#fff" opacity="0.35"/>
<rect x="660.5999999999999" y="219.9" width="26.7" height="21.1" rx="3" fill="#f1f0f1"/>
<rect x="660.5999999999999" y="219.9" width="26.7" height="21.1" rx="3" fill="url(#capshade)"/>
<rect x="471.7" y="294.7" width="22.3" height="64" fill="#923a53"/>
<rect x="471.7" y="294.7" width="22.3" height="64" filter="url(#paper)" opacity="0.13"/>
<rect x="531.6" y="294.7" width="22.7" height="64" fill="#a26444"/>
<rect x="531.6" y="294.7" width="22.7" height="64" filter="url(#paper)" opacity="0.13"/>
<rect x="596" y="294.7" width="22.3" height="64" fill="#95404e"/>
<rect x="596" y="294.7" width="22.3" height="64" filter="url(#paper)" opacity="0.13"/>
<rect x="658.9" y="294.7" width="22.1" height="64" fill="#963a52"/>
<rect x="658.9" y="294.7" width="22.1" height="64" filter="url(#paper)" opacity="0.13"/>
<text x="496.5" y="254" font-family="Liberation Sans, Arial, sans-serif" font-size="8" fill="#1c1c1c">Hg<tspan font-size="6" dy="-3.4" dx="0.8">2+</tspan><tspan dy="3.4">,Vc</tspan></text>
<path d="M500 263.5 H522" stroke="#555" stroke-width="0.7"/>
<path d="M516 261.3 L522 263.5 L516 265.7" stroke="#555" stroke-width="0.7" fill="none"/>
<text x="568" y="254.5" font-family="Liberation Sans, Arial, sans-serif" font-size="8" fill="#1c1c1c">EDTA</text>
<path d="M568 263.5 H590" stroke="#555" stroke-width="0.7"/>
<path d="M584 261.3 L590 263.5 L584 265.7" stroke="#555" stroke-width="0.7" fill="none"/>
<text x="568" y="275" font-family="Liberation Sans, Arial, sans-serif" font-size="8" fill="#1c1c1c">stirring</text>
<text x="627.8" y="248" font-family="Liberation Sans, Arial, sans-serif" font-size="8" fill="#1c1c1c">filtered</text>
<text x="627.8" y="259" font-family="Liberation Sans, Arial, sans-serif" font-size="8" fill="#1c1c1c">washed</text>
<path d="M633 263.5 H654" stroke="#555" stroke-width="0.7"/>
<path d="M648 261.3 L654 263.5 L648 265.7" stroke="#555" stroke-width="0.7" fill="none"/>
<text x="627.8" y="279" font-family="Liberation Sans, Arial, sans-serif" font-size="8" fill="#1c1c1c">redisper</text>
<text x="641" y="289" font-family="Liberation Sans, Arial, sans-serif" font-size="8" fill="#1c1c1c">-sed</text>
<text x="498.5" y="324.5" font-family="Liberation Sans, Arial, sans-serif" font-size="8" fill="#1c1c1c">Hg<tspan font-size="5.4" dy="-4" dx="0.8">2+</tspan><tspan dy="4">,Vc</tspan></text>
<path d="M502.5 332.5 H524" stroke="#555" stroke-width="0.7"/>
<path d="M518 330.3 L524 332.5 L518 334.7" stroke="#555" stroke-width="0.7" fill="none"/>
<text x="564.5" y="324.5" font-family="Liberation Sans, Arial, sans-serif" font-size="8" fill="#1c1c1c">EDTA</text>
<path d="M566 332.5 H588" stroke="#555" stroke-width="0.7"/>
<path d="M582 330.3 L588 332.5 L582 334.7" stroke="#555" stroke-width="0.7" fill="none"/>
<text x="564.5" y="344.5" font-family="Liberation Sans, Arial, sans-serif" font-size="8" fill="#1c1c1c">stirring</text>
<text x="626" y="324.5" font-family="Liberation Sans, Arial, sans-serif" font-size="8" fill="#1c1c1c">rinsing</text>
<path d="M629 332.5 H651" stroke="#555" stroke-width="0.7"/>
<path d="M645 330.3 L651 332.5 L645 334.7" stroke="#555" stroke-width="0.7" fill="none"/>
<text x="626" y="344.5" font-family="Liberation Sans, Arial, sans-serif" font-size="8" fill="#1c1c1c">enough</text>
</g>
</svg></body></html>
